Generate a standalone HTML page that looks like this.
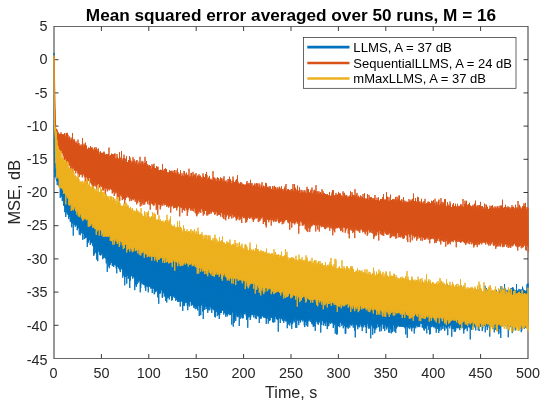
<!DOCTYPE html>
<html><head><meta charset="utf-8"><title>Mean squared error</title><style>html,body{margin:0;padding:0;background:#fff}</style></head><body>
<svg width="550" height="410" viewBox="0 0 550 410" style="display:block">
<rect width="550" height="410" fill="#fff"/>
<defs><clipPath id="c"><rect x="53.0" y="26.5" width="476.0" height="332.0"/></clipPath></defs>
<g stroke="#262626" stroke-width="0.7" fill="none">
<path d="M53.6,26.5H528.4M53.6,358.5H528.4"/>
<path d="M54.0,26.5V358.5M528.0,26.5V358.5" stroke-width="0.95"/>
<path d="M101.40,358.5v-4.5M101.40,26.5v4.5" stroke-width="0.9"/>
<path d="M148.80,358.5v-4.5M148.80,26.5v4.5" stroke-width="0.9"/>
<path d="M196.20,358.5v-4.5M196.20,26.5v4.5" stroke-width="0.9"/>
<path d="M243.60,358.5v-4.5M243.60,26.5v4.5" stroke-width="0.9"/>
<path d="M291.00,358.5v-4.5M291.00,26.5v4.5" stroke-width="0.9"/>
<path d="M338.40,358.5v-4.5M338.40,26.5v4.5" stroke-width="0.9"/>
<path d="M385.80,358.5v-4.5M385.80,26.5v4.5" stroke-width="0.9"/>
<path d="M433.20,358.5v-4.5M433.20,26.5v4.5" stroke-width="0.9"/>
<path d="M480.60,358.5v-4.5M480.60,26.5v4.5" stroke-width="0.9"/>
<path d="M54.0,59.70h4.5M528.0,59.70h-4.5" stroke-width="0.9"/>
<path d="M54.0,92.90h4.5M528.0,92.90h-4.5" stroke-width="0.9"/>
<path d="M54.0,126.10h4.5M528.0,126.10h-4.5" stroke-width="0.9"/>
<path d="M54.0,159.30h4.5M528.0,159.30h-4.5" stroke-width="0.9"/>
<path d="M54.0,192.50h4.5M528.0,192.50h-4.5" stroke-width="0.9"/>
<path d="M54.0,225.70h4.5M528.0,225.70h-4.5" stroke-width="0.9"/>
<path d="M54.0,258.90h4.5M528.0,258.90h-4.5" stroke-width="0.9"/>
<path d="M54.0,292.10h4.5M528.0,292.10h-4.5" stroke-width="0.9"/>
<path d="M54.0,325.30h4.5M528.0,325.30h-4.5" stroke-width="0.9"/>
</g>
<g clip-path="url(#c)"><path d="M55.0,153.5 56.0,168.5 57.0,167.8 58.0,162.5 59.0,158.7 60.0,162.2 61.0,165.7 62.0,169.2 63.0,172.8 64.0,176.3 65.0,179.9 66.0,183.5 67.0,185.7 68.0,187.4 69.0,189.0 70.0,190.7 71.0,192.1 72.0,193.6 73.0,194.8 74.0,195.9 75.0,197.1 76.0,198.2 77.0,199.4 78.0,200.6 79.0,201.7 80.0,202.9 81.0,204.0 82.0,205.2 83.0,206.4 84.0,207.5 85.0,208.7 86.0,209.8 87.0,211.0 88.0,212.2 89.0,213.3 90.0,214.5 91.0,215.6 92.0,216.8 93.0,218.0 94.0,219.1 95.0,220.0 96.0,221.0 97.0,222.0 98.0,222.9 99.0,223.6 100.0,224.3 101.0,225.0 102.0,225.7 103.0,226.4 104.0,227.1 105.0,227.7 106.0,228.4 107.0,229.1 108.0,229.8 109.0,230.4 110.0,231.0 111.0,231.5 112.0,232.1 113.0,232.6 114.0,233.2 115.0,233.6 116.0,234.1 117.0,234.6 118.0,235.1 119.0,235.6 120.0,236.1 121.0,236.5 122.0,237.0 123.0,237.5 124.0,237.9 125.0,238.4 126.0,238.8 127.0,239.3 128.0,239.7 129.0,240.2 130.0,240.6 131.0,241.0 132.0,241.5 133.0,241.9 134.0,242.4 135.0,242.8 136.0,243.2 137.0,243.7 138.0,244.1 139.0,244.5 140.0,244.8 141.0,245.2 142.0,245.5 143.0,245.9 144.0,246.2 145.0,246.6 146.0,246.9 147.0,247.3 148.0,247.6 149.0,248.0 150.0,248.3 151.0,248.6 152.0,248.8 153.0,249.1 154.0,249.4 155.0,249.7 156.0,250.0 157.0,250.2 158.0,250.5 159.0,250.8 160.0,251.1 161.0,251.4 162.0,251.7 163.0,252.0 164.0,252.2 165.0,252.5 166.0,252.8 167.0,253.1 168.0,253.3 169.0,253.6 170.0,253.8 171.0,254.0 172.0,254.3 173.0,254.5 174.0,254.8 175.0,255.0 176.0,255.2 177.0,255.5 178.0,255.7 179.0,255.9 180.0,256.2 181.0,256.4 182.0,256.5 183.0,256.7 184.0,256.8 185.0,256.9 186.0,257.1 187.0,257.2 188.0,257.3 189.0,257.4 190.0,257.6 191.0,257.7 192.0,257.8 193.0,258.0 194.0,258.1 195.0,258.2 196.0,258.4 197.0,259.4 198.0,260.6 199.0,261.8 200.0,263.0 201.0,263.2 202.0,263.4 203.0,263.6 204.0,263.8 205.0,264.0 206.0,264.2 207.0,264.4 208.0,264.6 209.0,264.8 210.0,265.0 211.0,265.2 212.0,265.4 213.0,265.6 214.0,265.8 215.0,266.0 216.0,266.2 217.0,266.4 218.0,266.6 219.0,266.8 220.0,267.0 221.0,267.3 222.0,267.7 223.0,268.0 224.0,268.3 225.0,268.6 226.0,269.0 227.0,269.3 228.0,269.6 229.0,270.0 230.0,270.3 231.0,270.6 232.0,270.9 233.0,271.3 234.0,271.6 235.0,271.9 236.0,272.2 237.0,272.6 238.0,272.9 239.0,273.2 240.0,273.6 241.0,273.9 242.0,274.2 243.0,274.5 244.0,274.9 245.0,275.2 246.0,275.5 247.0,275.8 248.0,276.2 249.0,276.5 250.0,276.8 251.0,277.1 252.0,277.5 253.0,277.8 254.0,278.1 255.0,278.5 256.0,278.8 257.0,279.1 258.0,279.4 259.0,279.7 260.0,280.0 261.0,280.3 262.0,280.6 263.0,280.9 264.0,281.1 265.0,281.4 266.0,281.7 267.0,282.0 268.0,282.2 269.0,282.5 270.0,282.8 271.0,283.1 272.0,283.4 273.0,283.6 274.0,283.9 275.0,284.2 276.0,284.5 277.0,284.8 278.0,285.0 279.0,285.3 280.0,285.6 281.0,285.9 282.0,286.1 283.0,286.4 284.0,286.7 285.0,287.0 286.0,287.3 287.0,287.5 288.0,287.8 289.0,288.0 290.0,288.3 291.0,288.5 292.0,288.7 293.0,288.8 294.0,289.0 295.0,289.2 296.0,289.4 297.0,289.6 298.0,289.8 299.0,290.0 300.0,290.2 301.0,290.4 302.0,290.6 303.0,290.8 304.0,291.0 305.0,291.2 306.0,291.4 307.0,291.6 308.0,291.8 309.0,292.0 310.0,292.2 311.0,292.4 312.0,292.6 313.0,292.8 314.0,293.0 315.0,293.2 316.0,293.4 317.0,293.6 318.0,293.8 319.0,293.9 320.0,294.1 321.0,294.3 322.0,294.5 323.0,294.6 324.0,294.8 325.0,294.8 326.0,294.9 327.0,294.9 328.0,295.0 329.0,295.1 330.0,295.1 331.0,295.2 332.0,295.3 333.0,295.4 334.0,295.4 335.0,295.5 336.0,295.6 337.0,295.7 338.0,295.8 339.0,295.8 340.0,295.9 341.0,296.0 342.0,296.1 343.0,296.2 344.0,296.2 345.0,296.3 346.0,296.4 347.0,296.5 348.0,296.5 349.0,296.6 350.0,296.6 351.0,296.7 352.0,296.8 353.0,296.8 354.0,296.9 355.0,296.9 356.0,297.0 357.0,297.0 358.0,297.1 359.0,297.2 360.0,297.2 361.0,297.3 362.0,297.3 363.0,297.4 364.0,297.4 365.0,297.5 366.0,297.6 367.0,297.6 368.0,297.7 369.0,297.7 370.0,297.8 371.0,297.8 372.0,297.8 373.0,297.9 374.0,297.9 375.0,297.9 376.0,298.0 377.0,298.0 378.0,298.0 379.0,298.0 380.0,298.1 381.0,298.1 382.0,298.1 383.0,298.2 384.0,298.2 385.0,298.2 386.0,298.2 387.0,298.3 388.0,298.3 389.0,298.3 390.0,298.4 391.0,298.4 392.0,298.4 393.0,298.4 394.0,298.5 395.0,298.5 396.0,298.5 397.0,298.6 398.0,298.6 399.0,298.6 400.0,298.6 401.0,298.6 402.0,298.6 403.0,298.6 404.0,298.6 405.0,298.6 406.0,298.6 407.0,298.6 408.0,298.6 409.0,298.6 410.0,298.6 411.0,298.6 412.0,298.5 413.0,298.5 414.0,298.5 415.0,298.5 416.0,298.5 417.0,298.5 418.0,298.5 419.0,298.5 420.0,298.5 421.0,298.6 422.0,298.6 423.0,298.7 424.0,298.7 425.0,298.8 426.0,298.9 427.0,298.9 428.0,299.0 429.0,299.0 430.0,299.0 431.0,299.0 432.0,299.0 433.0,299.0 434.0,299.1 435.0,299.1 436.0,299.1 437.0,299.1 438.0,299.1 439.0,299.1 440.0,299.1 441.0,294.2 442.0,294.3 443.0,294.5 444.0,294.6 445.0,294.7 446.0,294.8 447.0,294.9 448.0,295.0 449.0,295.1 450.0,295.2 451.0,295.3 452.0,295.4 453.0,295.5 454.0,295.6 455.0,295.7 456.0,295.8 457.0,295.9 458.0,296.0 459.0,296.1 460.0,296.2 461.0,296.2 462.0,296.3 463.0,296.3 464.0,296.3 465.0,296.4 466.0,296.4 467.0,296.4 468.0,296.5 469.0,296.5 470.0,296.6 471.0,296.6 472.0,296.6 473.0,296.7 474.0,296.7 475.0,296.7 476.0,296.8 477.0,296.8 478.0,296.9 479.0,296.9 480.0,296.9 481.0,297.0 482.0,297.0 483.0,297.0 484.0,297.1 485.0,297.1 486.0,297.1 487.0,297.0 488.0,296.9 489.0,296.8 490.0,296.7 491.0,296.6 492.0,296.5 493.0,296.4 494.0,296.4 495.0,296.3 496.0,296.2 497.0,296.1 498.0,296.0 499.0,295.9 500.0,295.8 501.0,295.7 502.0,295.6 503.0,295.5 504.0,295.4 505.0,295.3 506.0,295.1 507.0,295.0 508.0,294.9 509.0,294.8 510.0,294.7 511.0,294.6 512.0,294.5 513.0,294.5 514.0,294.5 515.0,294.5 516.0,294.5 517.0,294.5 518.0,294.5 519.0,294.5 520.0,294.5 521.0,294.5 522.0,294.5 523.0,294.5 524.0,294.5 525.0,294.5 526.0,294.5 527.0,294.5 528.0,294.5 528.0,320.0 527.0,320.1 526.0,320.1 525.0,320.2 524.0,320.3 523.0,320.3 522.0,320.4 521.0,320.5 520.0,320.5 519.0,320.6 518.0,320.7 517.0,320.7 516.0,320.8 515.0,320.9 514.0,320.9 513.0,321.0 512.0,321.1 511.0,321.1 510.0,321.2 509.0,321.3 508.0,321.3 507.0,321.4 506.0,321.5 505.0,321.5 504.0,321.6 503.0,321.7 502.0,321.7 501.0,321.8 500.0,321.9 499.0,321.9 498.0,321.9 497.0,321.9 496.0,321.9 495.0,321.9 494.0,322.0 493.0,322.0 492.0,322.0 491.0,322.0 490.0,322.0 489.0,322.0 488.0,322.1 487.0,322.1 486.0,322.1 485.0,322.2 484.0,322.2 483.0,322.3 482.0,322.3 481.0,322.4 480.0,322.4 479.0,322.5 478.0,322.5 477.0,322.6 476.0,322.6 475.0,322.7 474.0,322.7 473.0,322.8 472.0,322.8 471.0,322.9 470.0,323.0 469.0,323.0 468.0,323.0 467.0,323.0 466.0,323.1 465.0,323.1 464.0,323.1 463.0,323.1 462.0,323.2 461.0,323.2 460.0,323.2 459.0,323.2 458.0,323.3 457.0,323.3 456.0,323.2 455.0,323.2 454.0,323.2 453.0,323.2 452.0,323.2 451.0,323.2 450.0,323.2 449.0,323.2 448.0,323.2 447.0,323.2 446.0,323.2 445.0,323.2 444.0,323.1 443.0,323.1 442.0,323.1 441.0,323.1 440.0,323.1 439.0,323.1 438.0,323.1 437.0,323.1 436.0,323.1 435.0,323.1 434.0,323.1 433.0,323.0 432.0,323.0 431.0,323.0 430.0,323.0 429.0,323.0 428.0,323.0 427.0,322.9 426.0,322.9 425.0,322.8 424.0,322.7 423.0,322.7 422.0,322.6 421.0,322.6 420.0,322.5 419.0,322.5 418.0,322.5 417.0,322.5 416.0,322.5 415.0,322.5 414.0,322.5 413.0,322.5 412.0,322.5 411.0,322.6 410.0,322.6 409.0,322.6 408.0,322.6 407.0,322.6 406.0,322.6 405.0,322.6 404.0,322.6 403.0,322.6 402.0,322.6 401.0,322.6 400.0,322.6 399.0,322.6 398.0,322.6 397.0,322.6 396.0,322.5 395.0,322.5 394.0,322.5 393.0,322.4 392.0,322.4 391.0,322.4 390.0,322.4 389.0,322.3 388.0,322.3 387.0,322.3 386.0,322.2 385.0,322.2 384.0,322.2 383.0,322.2 382.0,322.1 381.0,322.1 380.0,322.1 379.0,322.0 378.0,322.0 377.0,322.0 376.0,322.0 375.0,321.9 374.0,321.9 373.0,321.9 372.0,321.8 371.0,321.8 370.0,321.8 369.0,321.7 368.0,321.7 367.0,321.6 366.0,321.6 365.0,321.5 364.0,321.4 363.0,321.4 362.0,321.3 361.0,321.3 360.0,321.2 359.0,321.2 358.0,321.1 357.0,321.0 356.0,321.0 355.0,320.9 354.0,320.9 353.0,320.8 352.0,320.8 351.0,320.7 350.0,320.6 349.0,320.6 348.0,320.5 347.0,320.5 346.0,320.4 345.0,320.3 344.0,320.2 343.0,320.2 342.0,320.1 341.0,320.0 340.0,319.9 339.0,319.8 338.0,319.8 337.0,319.7 336.0,319.6 335.0,319.5 334.0,319.4 333.0,319.4 332.0,319.3 331.0,319.2 330.0,319.1 329.0,319.1 328.0,319.0 327.0,318.9 326.0,318.9 325.0,318.8 324.0,318.8 323.0,318.7 322.0,318.7 321.0,318.6 320.0,318.5 319.0,318.5 318.0,318.4 317.0,318.4 316.0,318.3 315.0,318.2 314.0,318.1 313.0,318.1 312.0,318.0 311.0,317.9 310.0,317.9 309.0,317.8 308.0,317.7 307.0,317.6 306.0,317.6 305.0,317.5 304.0,317.4 303.0,317.3 302.0,317.3 301.0,317.2 300.0,317.1 299.0,317.0 298.0,317.0 297.0,316.9 296.0,316.8 295.0,316.7 294.0,316.7 293.0,316.6 292.0,316.5 291.0,316.5 290.0,316.4 289.0,316.3 288.0,316.2 287.0,316.1 286.0,316.0 285.0,315.9 284.0,315.8 283.0,315.7 282.0,315.6 281.0,315.5 280.0,315.4 279.0,315.3 278.0,315.2 277.0,315.0 276.0,314.9 275.0,314.8 274.0,314.7 273.0,314.6 272.0,314.5 271.0,314.4 270.0,314.3 269.0,314.2 268.0,314.1 267.0,314.0 266.0,313.9 265.0,313.7 264.0,313.6 263.0,313.5 262.0,313.4 261.0,313.3 260.0,313.2 259.0,313.1 258.0,313.0 257.0,312.9 256.0,312.8 255.0,312.7 254.0,312.5 253.0,312.4 252.0,312.3 251.0,312.2 250.0,312.1 249.0,311.9 248.0,311.8 247.0,311.7 246.0,311.6 245.0,311.5 244.0,311.3 243.0,311.2 242.0,311.1 241.0,311.0 240.0,310.9 239.0,310.7 238.0,310.6 237.0,310.5 236.0,310.4 235.0,310.3 234.0,310.1 233.0,310.0 232.0,309.9 231.0,309.8 230.0,309.7 229.0,309.5 228.0,309.2 227.0,309.0 226.0,308.7 225.0,308.5 224.0,308.2 223.0,308.0 222.0,307.7 221.0,307.4 220.0,307.2 219.0,306.9 218.0,306.7 217.0,306.4 216.0,306.2 215.0,305.9 214.0,305.7 213.0,305.4 212.0,305.2 211.0,304.9 210.0,304.6 209.0,304.4 208.0,304.1 207.0,303.8 206.0,303.5 205.0,303.2 204.0,302.9 203.0,302.6 202.0,302.3 201.0,301.9 200.0,301.6 199.0,301.4 198.0,301.1 197.0,300.9 196.0,300.6 195.0,300.4 194.0,300.1 193.0,299.9 192.0,299.6 191.0,299.3 190.0,299.1 189.0,298.8 188.0,298.6 187.0,298.3 186.0,298.1 185.0,297.8 184.0,297.5 183.0,297.3 182.0,297.0 181.0,296.7 180.0,296.3 179.0,295.9 178.0,295.5 177.0,295.1 176.0,294.7 175.0,294.3 174.0,293.9 173.0,293.5 172.0,293.1 171.0,292.7 170.0,292.3 169.0,291.9 168.0,291.5 167.0,291.1 166.0,290.7 165.0,290.2 164.0,289.8 163.0,289.3 162.0,288.8 161.0,288.4 160.0,287.9 159.0,287.5 158.0,287.0 157.0,286.5 156.0,286.1 155.0,285.6 154.0,285.2 153.0,284.7 152.0,284.2 151.0,283.8 150.0,283.3 149.0,282.8 148.0,282.4 147.0,281.9 146.0,281.4 145.0,280.9 144.0,280.5 143.0,280.0 142.0,279.5 141.0,279.1 140.0,278.6 139.0,278.1 138.0,277.6 137.0,277.0 136.0,276.4 135.0,275.7 134.0,275.0 133.0,274.4 132.0,273.7 131.0,273.0 130.0,272.4 129.0,271.7 128.0,271.0 127.0,270.3 126.0,269.7 125.0,269.0 124.0,268.3 123.0,267.7 122.0,266.9 121.0,266.2 120.0,265.4 119.0,264.7 118.0,263.9 117.0,263.2 116.0,262.4 115.0,261.7 114.0,260.9 113.0,260.1 112.0,259.3 111.0,258.5 110.0,257.7 109.0,256.9 108.0,256.0 107.0,255.1 106.0,254.2 105.0,253.3 104.0,252.4 103.0,251.5 102.0,250.6 101.0,249.7 100.0,248.8 99.0,247.9 98.0,246.9 97.0,246.0 96.0,245.0 95.0,244.0 94.0,243.1 93.0,242.0 92.0,240.8 91.0,239.6 90.0,238.5 89.0,237.3 88.0,236.2 87.0,235.0 86.0,233.8 85.0,232.7 84.0,231.5 83.0,230.4 82.0,229.2 81.0,228.0 80.0,226.9 79.0,225.7 78.0,224.6 77.0,223.4 76.0,222.2 75.0,221.1 74.0,219.9 73.0,218.8 72.0,217.6 71.0,216.1 70.0,214.7 69.0,213.0 68.0,211.4 67.0,209.7 66.0,207.5 65.0,203.9 64.0,200.3 63.0,196.8 62.0,193.2 61.0,189.7 60.0,186.2 59.0,182.7 58.0,179.5 57.0,176.8 56.0,174.0 55.0,156.7Z" fill="#0072BD" stroke="none"/>
<path d="M54.00,53.0L54.25,107.8 54.50,116.9 54.75,154.5 55.00,148.1 55.25,167.8 55.50,155.4 55.75,176.8 56.00,163.3 56.25,179.6 56.50,164.2 56.75,181.2 57.00,162.3 57.25,185.1 57.50,160.2 57.75,181.9 58.00,159.4 58.25,182.3 58.50,157.8 58.75,185.8 59.00,156.4 59.25,186.2 59.50,156.1 59.75,187.8 60.00,158.3 60.25,197.9 60.50,161.9 60.75,192.8 61.00,161.4 61.25,196.6 61.50,164.7 61.75,196.3 62.00,166.5 62.25,200.9 62.50,164.9 62.75,199.7 63.00,169.0 63.25,201.3 63.50,170.4 63.75,205.8 64.00,172.2 64.25,205.1 64.50,176.1 64.75,212.2 65.00,175.7 65.25,207.3 65.50,171.5 65.75,216.9 66.00,181.2 66.25,210.2 66.50,179.6 66.75,212.4 67.00,180.2 67.25,214.6 67.50,181.0 67.75,212.7 68.00,184.5 68.25,214.4 68.50,185.0 68.75,219.1 69.00,186.7 69.25,216.9 69.50,186.2 69.75,216.6 70.00,183.8 70.25,221.7 70.50,188.7 70.75,220.1 71.00,190.4 71.25,222.5 71.50,189.1 71.75,227.3 72.00,188.0 72.25,222.0 72.50,190.8 72.75,223.6 73.00,186.5 73.25,235.6 73.50,191.9 73.75,220.5 74.00,192.1 74.25,224.9 74.50,194.1 74.75,223.1 75.00,193.8 75.25,226.8 75.50,192.2 75.75,224.2 76.00,192.7 76.25,225.5 76.50,192.2 76.75,224.6 77.00,194.1 77.25,230.3 77.50,195.3 77.75,228.4 78.00,198.8 78.25,228.2 78.50,198.5 78.75,227.3 79.00,190.4 79.25,234.6 79.50,199.3 79.75,227.7 80.00,197.8 80.25,235.2 80.50,199.8 80.75,233.0 81.00,198.9 81.25,231.1 81.50,200.8 81.75,233.3 82.00,202.7 82.25,230.8 82.50,203.1 82.75,239.8 83.00,202.0 83.25,232.2 83.50,203.9 83.75,233.9 84.00,205.7 84.25,239.1 84.50,203.3 84.75,235.5 85.00,202.7 85.25,237.7 85.50,203.5 85.75,238.2 86.00,204.0 86.25,236.6 86.50,208.4 86.75,237.6 87.00,203.0 87.25,247.0 87.50,208.1 87.75,243.1 88.00,209.6 88.25,242.4 88.50,209.6 88.75,241.3 89.00,210.6 89.25,239.8 89.50,211.6 89.75,239.7 90.00,210.8 90.25,244.9 90.50,211.0 90.75,242.0 91.00,212.2 91.25,243.3 91.50,212.2 91.75,242.3 92.00,213.3 92.25,242.2 92.50,214.6 92.75,246.1 93.00,215.0 93.25,244.3 93.50,213.8 93.75,255.8 94.00,217.0 94.25,254.4 94.50,216.6 94.75,247.2 95.00,214.3 95.25,252.6 95.50,216.4 95.75,246.9 96.00,216.0 96.25,253.6 96.50,217.7 96.75,259.6 97.00,219.6 97.25,252.4 97.50,219.3 97.75,261.2 98.00,219.0 98.25,247.9 98.50,220.1 98.75,251.6 99.00,220.2 99.25,251.5 99.50,219.9 99.75,255.0 100.00,218.8 100.25,253.2 100.50,221.6 100.75,255.6 101.00,218.7 101.25,254.5 101.50,221.6 101.75,252.6 102.00,219.9 102.25,252.4 102.50,219.8 102.75,259.2 103.00,218.1 103.25,254.2 103.50,220.7 103.75,258.1 104.00,221.0 104.25,257.9 104.50,219.3 104.75,256.0 105.00,225.8 105.25,254.9 105.50,225.6 105.75,258.8 106.00,222.4 106.25,263.4 106.50,227.0 106.75,256.4 107.00,225.0 107.25,271.9 107.50,225.4 107.75,260.4 108.00,227.7 108.25,261.7 108.50,227.6 108.75,266.3 109.00,225.3 109.25,268.2 109.50,225.8 109.75,262.7 110.00,228.0 110.25,264.8 110.50,228.6 110.75,260.9 111.00,228.7 111.25,262.9 111.50,227.1 111.75,260.7 112.00,229.9 112.25,265.9 112.50,228.5 112.75,265.8 113.00,230.5 113.25,266.2 113.50,227.1 113.75,266.9 114.00,229.0 114.25,262.1 114.50,226.4 114.75,265.1 115.00,231.9 115.25,264.0 115.50,232.1 115.75,265.5 116.00,231.2 116.25,268.6 116.50,226.8 116.75,273.3 117.00,232.3 117.25,267.0 117.50,228.0 117.75,266.2 118.00,231.0 118.25,267.0 118.50,231.3 118.75,268.3 119.00,230.3 119.25,268.5 119.50,233.3 119.75,270.1 120.00,233.2 120.25,272.1 120.50,234.0 120.75,267.2 121.00,232.5 121.25,267.6 121.50,227.7 121.75,269.2 122.00,233.8 122.25,269.9 122.50,232.5 122.75,277.7 123.00,233.0 123.25,271.3 123.50,233.6 123.75,275.7 124.00,234.4 124.25,270.4 124.50,231.1 124.75,285.3 125.00,234.4 125.25,277.1 125.50,235.5 125.75,271.4 126.00,232.5 126.25,273.5 126.50,233.5 126.75,283.6 127.00,234.8 127.25,276.1 127.50,235.9 127.75,273.7 128.00,231.5 128.25,278.8 128.50,236.0 128.75,277.2 129.00,237.2 129.25,272.8 129.50,235.3 129.75,288.0 130.00,237.2 130.25,280.7 130.50,236.9 130.75,276.8 131.00,237.7 131.25,276.0 131.50,237.7 131.75,275.9 132.00,239.5 132.25,274.9 132.50,239.0 132.75,278.8 133.00,239.1 133.25,277.1 133.50,238.7 133.75,276.6 134.00,238.0 134.25,277.6 134.50,240.1 134.75,290.1 135.00,232.5 135.25,278.4 135.50,239.4 135.75,284.6 136.00,238.6 136.25,287.0 136.50,241.1 136.75,281.4 137.00,241.1 137.25,284.2 137.50,235.6 137.75,279.5 138.00,238.9 138.25,281.1 138.50,240.6 138.75,282.6 139.00,242.3 139.25,280.3 139.50,236.5 139.75,280.6 140.00,242.2 140.25,292.3 140.50,241.8 140.75,288.0 141.00,241.5 141.25,283.3 141.50,240.7 141.75,281.4 142.00,241.6 142.25,284.3 142.50,241.8 142.75,281.9 143.00,236.2 143.25,283.7 143.50,241.9 143.75,284.7 144.00,241.4 144.25,285.3 144.50,240.7 144.75,283.5 145.00,244.6 145.25,288.1 145.50,243.8 145.75,290.9 146.00,235.5 146.25,284.8 146.50,244.3 146.75,286.6 147.00,243.4 147.25,285.0 147.50,245.1 147.75,287.1 148.00,245.2 148.25,292.3 148.50,241.1 148.75,285.6 149.00,244.8 149.25,285.5 149.50,244.4 149.75,286.9 150.00,244.9 150.25,286.7 150.50,246.3 150.75,288.6 151.00,244.9 151.25,288.3 151.50,242.2 151.75,285.1 152.00,246.1 152.25,293.1 152.50,244.1 152.75,287.9 153.00,242.5 153.25,288.8 153.50,246.9 153.75,287.9 154.00,243.5 154.25,294.3 154.50,247.7 154.75,293.4 155.00,244.3 155.25,290.3 155.50,246.5 155.75,291.9 156.00,247.6 156.25,291.3 156.50,246.4 156.75,288.9 157.00,247.3 157.25,290.2 157.50,248.4 157.75,297.4 158.00,244.1 158.25,293.3 158.50,244.0 158.75,303.8 159.00,248.3 159.25,293.8 159.50,247.7 159.75,289.3 160.00,248.0 160.25,293.7 160.50,247.8 160.75,291.9 161.00,249.1 161.25,290.0 161.50,245.4 161.75,290.2 162.00,247.7 162.25,297.8 162.50,249.3 162.75,296.8 163.00,248.8 163.25,291.7 163.50,249.3 163.75,293.0 164.00,248.6 164.25,293.7 164.50,247.1 164.75,296.6 165.00,247.2 165.25,295.3 165.50,250.2 165.75,301.0 166.00,248.7 166.25,293.9 166.50,250.3 166.75,302.5 167.00,251.2 167.25,298.3 167.50,250.8 167.75,296.3 168.00,249.4 168.25,296.2 168.50,251.4 168.75,297.9 169.00,250.7 169.25,299.5 169.50,248.9 169.75,295.8 170.00,251.0 170.25,295.6 170.50,251.1 170.75,296.2 171.00,251.5 171.25,296.1 171.50,252.3 171.75,300.7 172.00,250.8 172.25,299.9 172.50,250.5 172.75,294.6 173.00,250.4 173.25,296.6 173.50,252.2 173.75,295.6 174.00,252.2 174.25,297.7 174.50,249.1 174.75,297.4 175.00,252.4 175.25,296.9 175.50,251.7 175.75,300.9 176.00,252.8 176.25,297.9 176.50,252.9 176.75,299.9 177.00,253.4 177.25,298.8 177.50,247.8 177.75,301.7 178.00,252.4 178.25,301.8 178.50,254.0 178.75,299.3 179.00,252.0 179.25,301.6 179.50,252.2 179.75,300.9 180.00,252.3 180.25,306.5 180.50,248.9 180.75,299.0 181.00,252.7 181.25,301.6 181.50,252.6 181.75,301.1 182.00,253.7 182.25,300.8 182.50,254.1 182.75,310.9 183.00,252.9 183.25,302.5 183.50,253.1 183.75,305.7 184.00,254.2 184.25,306.1 184.50,253.8 184.75,302.9 185.00,252.9 185.25,303.2 185.50,252.9 185.75,300.4 186.00,254.1 186.25,300.8 186.50,255.4 186.75,302.8 187.00,252.9 187.25,305.9 187.50,254.0 187.75,310.2 188.00,254.8 188.25,300.4 188.50,254.3 188.75,304.6 189.00,255.1 189.25,306.7 189.50,253.2 189.75,301.9 190.00,254.3 190.25,301.7 190.50,255.7 190.75,300.7 191.00,253.2 191.25,305.7 191.50,252.9 191.75,303.7 192.00,254.3 192.25,305.3 192.50,253.0 192.75,302.2 193.00,255.9 193.25,304.4 193.50,251.0 193.75,307.9 194.00,253.6 194.25,304.6 194.50,251.9 194.75,307.2 195.00,256.1 195.25,309.2 195.50,255.3 195.75,305.4 196.00,255.0 196.25,306.8 196.50,249.6 196.75,308.7 197.00,255.5 197.25,308.5 197.50,257.7 197.75,310.5 198.00,255.7 198.25,305.9 198.50,257.0 198.75,305.1 199.00,259.0 199.25,316.0 199.50,256.7 199.75,306.4 200.00,256.3 200.25,307.9 200.50,259.7 200.75,315.2 201.00,260.7 201.25,302.8 201.50,258.0 201.75,305.6 202.00,258.8 202.25,303.2 202.50,260.1 202.75,311.5 203.00,260.9 203.25,319.0 203.50,260.3 203.75,306.6 204.00,259.0 204.25,309.1 204.50,259.9 204.75,310.0 205.00,258.8 205.25,304.4 205.50,255.1 205.75,306.8 206.00,259.5 206.25,309.0 206.50,258.4 206.75,305.3 207.00,260.5 207.25,306.9 207.50,254.5 207.75,312.8 208.00,260.7 208.25,310.2 208.50,257.1 208.75,306.3 209.00,256.7 209.25,306.6 209.50,261.2 209.75,310.4 210.00,259.1 210.25,306.3 210.50,263.0 210.75,307.3 211.00,260.5 211.25,309.0 211.50,263.2 211.75,312.9 212.00,260.3 212.25,308.0 212.50,262.3 212.75,308.9 213.00,262.0 213.25,310.2 213.50,263.1 213.75,308.8 214.00,261.4 214.25,309.3 214.50,260.4 214.75,316.6 215.00,263.4 215.25,317.4 215.50,262.7 215.75,311.7 216.00,261.8 216.25,311.5 216.50,263.3 216.75,311.5 217.00,259.2 217.25,316.2 217.50,256.3 217.75,310.1 218.00,262.2 218.25,314.9 218.50,262.9 218.75,314.1 219.00,262.6 219.25,318.9 219.50,264.2 219.75,315.0 220.00,264.9 220.25,310.6 220.50,264.4 220.75,313.0 221.00,262.9 221.25,313.0 221.50,264.1 221.75,310.0 222.00,265.0 222.25,311.0 222.50,265.3 222.75,309.8 223.00,264.0 223.25,309.4 223.50,264.8 223.75,314.6 224.00,262.7 224.25,310.0 224.50,266.0 224.75,313.2 225.00,256.6 225.25,311.2 225.50,265.0 225.75,316.8 226.00,258.5 226.25,314.3 226.50,265.8 226.75,314.6 227.00,264.2 227.25,316.4 227.50,266.3 227.75,313.9 228.00,260.6 228.25,311.2 228.50,264.2 228.75,313.9 229.00,267.1 229.25,315.2 229.50,266.5 229.75,313.8 230.00,264.7 230.25,314.9 230.50,268.5 230.75,311.5 231.00,267.8 231.25,314.9 231.50,267.8 231.75,324.6 232.00,269.3 232.25,312.2 232.50,266.6 232.75,312.3 233.00,261.1 233.25,326.6 233.50,269.5 233.75,317.0 234.00,269.3 234.25,322.8 234.50,267.6 234.75,319.4 235.00,267.2 235.25,311.8 235.50,267.5 235.75,320.9 236.00,268.8 236.25,315.5 236.50,269.3 236.75,313.1 237.00,270.6 237.25,317.2 237.50,263.2 237.75,316.2 238.00,265.4 238.25,316.7 238.50,270.2 238.75,312.5 239.00,269.3 239.25,326.0 239.50,269.9 239.75,314.8 240.00,270.3 240.25,318.8 240.50,271.3 240.75,312.2 241.00,262.4 241.25,312.8 241.50,270.5 241.75,317.3 242.00,268.6 242.25,318.4 242.50,270.8 242.75,313.9 243.00,270.0 243.25,318.2 243.50,266.3 243.75,314.0 244.00,270.7 244.25,314.3 244.50,266.9 244.75,314.1 245.00,272.3 245.25,313.6 245.50,269.8 245.75,313.1 246.00,267.7 246.25,316.1 246.50,269.9 246.75,320.0 247.00,272.9 247.25,318.4 247.50,272.7 247.75,327.7 248.00,273.2 248.25,315.6 248.50,271.7 248.75,317.5 249.00,272.9 249.25,314.4 249.50,273.9 249.75,316.6 250.00,274.5 250.25,320.0 250.50,274.0 250.75,317.4 251.00,273.2 251.25,314.5 251.50,271.7 251.75,314.3 252.00,272.7 252.25,315.2 252.50,272.2 252.75,314.3 253.00,270.6 253.25,314.2 253.50,273.1 253.75,317.3 254.00,276.0 254.25,314.2 254.50,274.8 254.75,315.0 255.00,276.3 255.25,318.3 255.50,274.4 255.75,313.8 256.00,276.8 256.25,319.1 256.50,275.1 256.75,314.9 257.00,274.9 257.25,314.5 257.50,274.0 257.75,316.4 258.00,275.5 258.25,316.0 258.50,267.6 258.75,316.5 259.00,276.5 259.25,323.0 259.50,274.0 259.75,317.7 260.00,276.8 260.25,316.3 260.50,277.6 260.75,318.8 261.00,277.1 261.25,318.4 261.50,278.3 261.75,315.4 262.00,276.3 262.25,316.4 262.50,278.8 262.75,316.2 263.00,275.0 263.25,315.3 263.50,277.1 263.75,317.7 264.00,275.7 264.25,316.4 264.50,278.9 264.75,317.4 265.00,273.4 265.25,318.2 265.50,274.6 265.75,316.5 266.00,275.4 266.25,323.9 266.50,278.1 266.75,318.6 267.00,276.2 267.25,317.7 267.50,278.3 267.75,318.5 268.00,275.1 268.25,323.6 268.50,280.5 268.75,316.1 269.00,278.5 269.25,321.0 269.50,275.1 269.75,316.2 270.00,276.9 270.25,320.3 270.50,276.9 270.75,316.1 271.00,277.3 271.25,318.0 271.50,278.9 271.75,317.1 272.00,280.8 272.25,317.6 272.50,278.5 272.75,322.1 273.00,280.4 273.25,322.7 273.50,280.3 273.75,318.9 274.00,280.2 274.25,317.4 274.50,280.1 274.75,322.2 275.00,281.6 275.25,316.7 275.50,278.8 275.75,316.4 276.00,280.1 276.25,318.9 276.50,277.7 276.75,318.9 277.00,274.4 277.25,319.9 277.50,279.2 277.75,319.3 278.00,280.8 278.25,331.7 278.50,283.0 278.75,317.6 279.00,281.4 279.25,318.5 279.50,281.1 279.75,317.9 280.00,281.0 280.25,323.0 280.50,281.7 280.75,317.9 281.00,282.7 281.25,317.3 281.50,279.8 281.75,319.3 282.00,281.8 282.25,318.4 282.50,279.7 282.75,320.8 283.00,283.6 283.25,316.7 283.50,281.9 283.75,322.8 284.00,279.6 284.25,320.8 284.50,279.8 284.75,319.1 285.00,284.6 285.25,318.6 285.50,283.3 285.75,321.4 286.00,283.9 286.25,319.5 286.50,280.3 286.75,321.5 287.00,282.7 287.25,328.2 287.50,284.7 287.75,320.6 288.00,283.9 288.25,324.5 288.50,284.8 288.75,322.4 289.00,284.0 289.25,319.1 289.50,284.9 289.75,325.6 290.00,283.8 290.25,323.1 290.50,281.2 290.75,318.5 291.00,277.0 291.25,321.7 291.50,282.6 291.75,328.9 292.00,279.1 292.25,324.1 292.50,283.2 292.75,323.4 293.00,283.1 293.25,319.7 293.50,284.0 293.75,320.8 294.00,285.2 294.25,322.3 294.50,287.5 294.75,319.3 295.00,286.8 295.25,317.9 295.50,285.8 295.75,327.8 296.00,284.6 296.25,319.5 296.50,286.9 296.75,327.9 297.00,285.7 297.25,320.6 297.50,286.0 297.75,319.2 298.00,286.1 298.25,318.9 298.50,285.9 298.75,325.1 299.00,284.8 299.25,320.4 299.50,286.7 299.75,318.7 300.00,286.5 300.25,322.6 300.50,287.7 300.75,321.4 301.00,287.1 301.25,319.9 301.50,287.8 301.75,319.8 302.00,285.8 302.25,319.9 302.50,280.4 302.75,321.5 303.00,281.6 303.25,320.3 303.50,288.0 303.75,319.2 304.00,286.1 304.25,325.3 304.50,287.0 304.75,327.1 305.00,289.3 305.25,321.2 305.50,289.6 305.75,321.8 306.00,288.6 306.25,325.5 306.50,287.9 306.75,320.2 307.00,289.5 307.25,323.0 307.50,289.3 307.75,326.7 308.00,289.3 308.25,321.3 308.50,289.5 308.75,318.7 309.00,289.8 309.25,319.5 309.50,288.7 309.75,320.4 310.00,286.9 310.25,322.0 310.50,287.9 310.75,319.1 311.00,289.9 311.25,319.4 311.50,289.0 311.75,323.5 312.00,288.7 312.25,324.4 312.50,290.9 312.75,321.8 313.00,286.7 313.25,326.7 313.50,290.1 313.75,326.5 314.00,290.8 314.25,326.1 314.50,281.1 314.75,319.9 315.00,290.8 315.25,330.9 315.50,290.0 315.75,319.8 316.00,290.7 316.25,321.7 316.50,287.4 316.75,319.1 317.00,290.3 317.25,323.6 317.50,291.6 317.75,322.1 318.00,292.1 318.25,324.9 318.50,290.9 318.75,322.0 319.00,284.3 319.25,320.2 319.50,291.7 319.75,322.5 320.00,287.1 320.25,320.0 320.50,291.6 320.75,332.6 321.00,290.8 321.25,319.8 321.50,290.0 321.75,325.0 322.00,290.9 322.25,320.6 322.50,292.8 322.75,321.1 323.00,291.8 323.25,321.5 323.50,290.3 323.75,325.6 324.00,291.8 324.25,323.1 324.50,290.1 324.75,323.4 325.00,292.7 325.25,320.3 325.50,292.5 325.75,326.0 326.00,291.3 326.25,322.4 326.50,291.3 326.75,322.0 327.00,289.2 327.25,329.1 327.50,291.7 327.75,326.6 328.00,291.1 328.25,323.4 328.50,291.4 328.75,326.0 329.00,290.3 329.25,320.9 329.50,290.3 329.75,322.9 330.00,291.4 330.25,324.0 330.50,289.4 330.75,322.4 331.00,287.6 331.25,321.9 331.50,292.4 331.75,323.2 332.00,292.4 332.25,321.1 332.50,292.5 332.75,323.3 333.00,292.6 333.25,328.0 333.50,292.6 333.75,325.5 334.00,291.5 334.25,324.6 334.50,290.0 334.75,322.4 335.00,292.7 335.25,333.6 335.50,290.9 335.75,324.1 336.00,292.5 336.25,321.6 336.50,283.6 336.75,334.6 337.00,291.4 337.25,334.1 337.50,290.3 337.75,324.3 338.00,293.3 338.25,326.3 338.50,293.2 338.75,325.6 339.00,291.7 339.25,324.7 339.50,293.2 339.75,327.2 340.00,292.2 340.25,322.7 340.50,289.3 340.75,322.8 341.00,293.3 341.25,322.2 341.50,293.4 341.75,325.8 342.00,292.0 342.25,324.5 342.50,292.8 342.75,324.3 343.00,291.1 343.25,328.3 343.50,292.7 343.75,323.3 344.00,293.9 344.25,324.2 344.50,294.6 344.75,326.2 345.00,291.9 345.25,333.7 345.50,293.6 345.75,333.6 346.00,292.4 346.25,327.3 346.50,294.6 346.75,325.2 347.00,293.8 347.25,327.2 347.50,292.0 347.75,327.3 348.00,290.4 348.25,328.7 348.50,290.3 348.75,324.8 349.00,289.7 349.25,322.1 349.50,292.9 349.75,327.5 350.00,290.7 350.25,323.8 350.50,292.2 350.75,325.1 351.00,293.3 351.25,323.3 351.50,293.7 351.75,325.8 352.00,294.1 352.25,322.4 352.50,290.6 352.75,324.4 353.00,293.0 353.25,327.7 353.50,294.1 353.75,324.6 354.00,293.3 354.25,324.4 354.50,287.7 354.75,330.6 355.00,294.8 355.25,337.4 355.50,294.8 355.75,324.9 356.00,289.5 356.25,324.6 356.50,294.9 356.75,323.2 357.00,289.7 357.25,326.5 357.50,294.2 357.75,329.2 358.00,292.5 358.25,326.5 358.50,290.1 358.75,324.4 359.00,290.1 359.25,327.4 359.50,291.7 359.75,325.7 360.00,293.5 360.25,324.7 360.50,293.9 360.75,323.3 361.00,293.9 361.25,327.1 361.50,289.3 361.75,325.8 362.00,292.9 362.25,331.1 362.50,290.7 362.75,324.2 363.00,295.8 363.25,326.1 363.50,294.2 363.75,327.3 364.00,293.0 364.25,324.5 364.50,294.3 364.75,325.0 365.00,287.2 365.25,325.2 365.50,295.2 365.75,327.2 366.00,292.6 366.25,333.2 366.50,291.7 366.75,327.8 367.00,295.0 367.25,323.1 367.50,291.8 367.75,324.0 368.00,293.0 368.25,325.9 368.50,285.7 368.75,328.7 369.00,290.0 369.25,326.8 369.50,294.0 369.75,328.4 370.00,291.6 370.25,324.4 370.50,293.1 370.75,338.3 371.00,294.7 371.25,325.4 371.50,292.5 371.75,323.3 372.00,292.9 372.25,326.4 372.50,289.6 372.75,334.7 373.00,295.8 373.25,324.1 373.50,295.8 373.75,328.4 374.00,295.2 374.25,327.8 374.50,292.6 374.75,333.2 375.00,291.4 375.25,327.4 375.50,294.3 375.75,329.6 376.00,293.6 376.25,327.4 376.50,294.0 376.75,328.0 377.00,296.0 377.25,324.3 377.50,295.4 377.75,324.0 378.00,292.0 378.25,327.2 378.50,292.2 378.75,326.4 379.00,291.2 379.25,326.9 379.50,292.6 379.75,331.5 380.00,296.5 380.25,323.8 380.50,293.6 380.75,326.4 381.00,293.5 381.25,331.1 381.50,296.0 381.75,323.9 382.00,288.7 382.25,324.4 382.50,294.5 382.75,323.3 383.00,292.0 383.25,328.8 383.50,292.5 383.75,328.0 384.00,293.0 384.25,323.6 384.50,290.6 384.75,331.1 385.00,294.6 385.25,325.4 385.50,292.1 385.75,325.7 386.00,293.4 386.25,328.2 386.50,296.0 386.75,329.5 387.00,295.4 387.25,324.4 387.50,296.0 387.75,327.4 388.00,296.3 388.25,326.4 388.50,293.4 388.75,332.7 389.00,296.3 389.25,324.9 389.50,292.1 389.75,332.6 390.00,294.9 390.25,323.5 390.50,295.0 390.75,328.8 391.00,296.2 391.25,333.4 391.50,293.8 391.75,329.1 392.00,295.9 392.25,332.2 392.50,293.1 392.75,330.7 393.00,293.0 393.25,323.9 393.50,296.6 393.75,325.3 394.00,293.6 394.25,331.6 394.50,296.8 394.75,327.7 395.00,292.7 395.25,326.5 395.50,296.8 395.75,333.0 396.00,296.1 396.25,328.5 396.50,291.3 396.75,324.4 397.00,294.3 397.25,327.2 397.50,293.2 397.75,325.9 398.00,297.0 398.25,324.7 398.50,293.0 398.75,326.3 399.00,296.0 399.25,325.8 399.50,290.1 399.75,326.9 400.00,294.7 400.25,326.7 400.50,294.9 400.75,326.0 401.00,296.7 401.25,325.7 401.50,296.1 401.75,326.9 402.00,294.8 402.25,326.4 402.50,291.1 402.75,326.9 403.00,291.4 403.25,326.8 403.50,295.2 403.75,324.9 404.00,296.3 404.25,327.5 404.50,296.4 404.75,324.6 405.00,289.9 405.25,328.7 405.50,294.1 405.75,334.4 406.00,296.2 406.25,326.6 406.50,290.6 406.75,327.1 407.00,293.5 407.25,337.8 407.50,292.9 407.75,326.6 408.00,292.7 408.25,324.5 408.50,294.0 408.75,328.2 409.00,295.5 409.25,324.8 409.50,296.6 409.75,329.2 410.00,296.4 410.25,324.3 410.50,296.0 410.75,327.2 411.00,293.6 411.25,327.8 411.50,295.8 411.75,331.3 412.00,292.8 412.25,328.2 412.50,292.5 412.75,324.4 413.00,290.5 413.25,327.6 413.50,290.4 413.75,327.2 414.00,290.1 414.25,333.5 414.50,294.2 414.75,325.8 415.00,294.3 415.25,326.2 415.50,295.6 415.75,328.3 416.00,294.1 416.25,326.2 416.50,294.4 416.75,324.6 417.00,295.7 417.25,325.1 417.50,296.7 417.75,327.2 418.00,291.0 418.25,326.8 418.50,293.3 418.75,324.7 419.00,296.0 419.25,326.2 419.50,295.4 419.75,327.1 420.00,292.7 420.25,323.4 420.50,295.5 420.75,323.9 421.00,294.0 421.25,323.5 421.50,292.0 421.75,323.8 422.00,292.6 422.25,327.6 422.50,295.0 422.75,327.3 423.00,296.1 423.25,323.8 423.50,295.4 423.75,329.4 424.00,293.0 424.25,330.6 424.50,295.1 424.75,327.1 425.00,290.1 425.25,328.3 425.50,289.5 425.75,328.4 426.00,290.7 426.25,325.6 426.50,293.2 426.75,333.4 427.00,296.6 427.25,325.1 427.50,290.0 427.75,326.2 428.00,293.2 428.25,323.7 428.50,296.1 428.75,329.9 429.00,296.4 429.25,325.7 429.50,296.1 429.75,334.5 430.00,294.7 430.25,333.9 430.50,296.9 430.75,323.8 431.00,292.0 431.25,326.8 431.50,295.7 431.75,327.2 432.00,293.8 432.25,326.2 432.50,297.1 432.75,325.2 433.00,287.0 433.25,326.4 433.50,292.5 433.75,327.4 434.00,295.3 434.25,327.1 434.50,296.8 434.75,326.5 435.00,290.9 435.25,328.5 435.50,295.8 435.75,326.6 436.00,295.9 436.25,332.7 436.50,296.5 436.75,325.5 437.00,296.8 437.25,327.1 437.50,295.3 437.75,328.8 438.00,295.1 438.25,329.1 438.50,295.9 438.75,333.0 439.00,296.7 439.25,326.0 439.50,291.0 439.75,330.7 440.00,290.6 440.25,327.2 440.50,291.6 440.75,324.2 441.00,286.9 441.25,330.2 441.50,290.3 441.75,324.8 442.00,290.6 442.25,326.1 442.50,284.2 442.75,328.8 443.00,284.8 443.25,326.0 443.50,291.3 443.75,325.3 444.00,289.1 444.25,328.9 444.50,291.7 444.75,330.9 445.00,292.7 445.25,325.9 445.50,288.8 445.75,326.4 446.00,289.9 446.25,328.5 446.50,289.3 446.75,327.5 447.00,283.8 447.25,326.7 447.50,291.6 447.75,335.2 448.00,290.1 448.25,326.6 448.50,290.9 448.75,325.4 449.00,293.3 449.25,326.4 449.50,291.7 449.75,328.4 450.00,293.2 450.25,325.7 450.50,291.3 450.75,325.3 451.00,293.0 451.25,324.6 451.50,293.1 451.75,336.7 452.00,287.8 452.25,329.1 452.50,292.3 452.75,325.0 453.00,292.2 453.25,328.9 453.50,291.1 453.75,328.7 454.00,293.9 454.25,331.7 454.50,293.2 454.75,325.3 455.00,293.1 455.25,331.7 455.50,291.1 455.75,330.1 456.00,291.6 456.25,325.1 456.50,293.1 456.75,327.9 457.00,287.1 457.25,328.0 457.50,293.1 457.75,328.3 458.00,293.4 458.25,324.1 458.50,291.5 458.75,328.1 459.00,293.4 459.25,326.4 459.50,289.2 459.75,330.1 460.00,291.8 460.25,327.9 460.50,293.5 460.75,326.0 461.00,285.2 461.25,325.2 461.50,293.1 461.75,326.6 462.00,292.6 462.25,328.1 462.50,291.9 462.75,327.1 463.00,291.9 463.25,324.6 463.50,291.7 463.75,333.5 464.00,294.2 464.25,330.0 464.50,292.5 464.75,327.4 465.00,294.7 465.25,327.8 465.50,293.1 465.75,328.9 466.00,292.9 466.25,327.9 466.50,291.6 466.75,326.6 467.00,293.9 467.25,331.2 467.50,292.2 467.75,326.7 468.00,293.4 468.25,326.4 468.50,292.6 468.75,327.3 469.00,294.1 469.25,326.8 469.50,290.5 469.75,327.6 470.00,290.7 470.25,339.4 470.50,294.7 470.75,325.9 471.00,293.3 471.25,328.5 471.50,293.5 471.75,330.0 472.00,294.9 472.25,324.3 472.50,294.5 472.75,326.3 473.00,293.4 473.25,324.2 473.50,294.5 473.75,325.3 474.00,292.7 474.25,324.2 474.50,291.5 474.75,327.4 475.00,294.0 475.25,325.4 475.50,291.8 475.75,330.4 476.00,289.5 476.25,326.0 476.50,294.0 476.75,325.8 477.00,290.2 477.25,325.3 477.50,290.2 477.75,324.9 478.00,289.6 478.25,330.3 478.50,293.1 478.75,324.1 479.00,292.6 479.25,331.0 479.50,294.3 479.75,326.1 480.00,291.1 480.25,324.1 480.50,291.5 480.75,326.8 481.00,292.4 481.25,325.0 481.50,293.2 481.75,324.9 482.00,294.2 482.25,331.1 482.50,295.4 482.75,328.4 483.00,294.1 483.25,322.9 483.50,295.2 483.75,325.8 484.00,293.5 484.25,325.8 484.50,294.5 484.75,325.1 485.00,285.8 485.25,332.4 485.50,294.2 485.75,324.4 486.00,294.6 486.25,324.4 486.50,288.0 486.75,326.6 487.00,295.1 487.25,330.1 487.50,290.1 487.75,323.5 488.00,289.9 488.25,325.6 488.50,293.2 488.75,325.4 489.00,294.7 489.25,328.1 489.50,293.9 489.75,336.6 490.00,292.6 490.25,328.8 490.50,290.8 490.75,325.0 491.00,291.6 491.25,324.4 491.50,291.8 491.75,322.6 492.00,293.4 492.25,326.2 492.50,290.0 492.75,329.0 493.00,294.0 493.25,328.2 493.50,293.6 493.75,324.8 494.00,292.1 494.25,332.3 494.50,290.7 494.75,323.7 495.00,291.4 495.25,329.8 495.50,291.2 495.75,327.5 496.00,293.1 496.25,324.7 496.50,289.9 496.75,329.7 497.00,294.4 497.25,323.8 497.50,293.2 497.75,324.1 498.00,293.8 498.25,327.0 498.50,293.6 498.75,334.1 499.00,291.1 499.25,329.0 499.50,290.1 499.75,324.5 500.00,293.4 500.25,332.8 500.50,291.9 500.75,338.0 501.00,286.2 501.25,326.8 501.50,291.1 501.75,326.1 502.00,287.7 502.25,323.7 502.50,289.0 502.75,323.6 503.00,288.6 503.25,323.1 503.50,292.1 503.75,323.6 504.00,290.7 504.25,322.9 504.50,284.0 504.75,324.9 505.00,292.5 505.25,323.9 505.50,288.1 505.75,324.6 506.00,292.2 506.25,326.8 506.50,291.1 506.75,323.3 507.00,289.8 507.25,323.8 507.50,291.7 507.75,325.7 508.00,291.4 508.25,337.3 508.50,292.6 508.75,328.3 509.00,291.1 509.25,322.2 509.50,292.6 509.75,327.5 510.00,289.9 510.25,326.8 510.50,290.5 510.75,324.5 511.00,288.0 511.25,323.3 511.50,291.1 511.75,326.1 512.00,287.9 512.25,333.1 512.50,287.6 512.75,328.5 513.00,287.4 513.25,324.2 513.50,288.8 513.75,324.2 514.00,289.6 514.25,326.7 514.50,290.0 514.75,326.4 515.00,291.3 515.25,330.4 515.50,290.7 515.75,325.0 516.00,290.6 516.25,324.3 516.50,284.1 516.75,323.4 517.00,292.2 517.25,323.9 517.50,291.0 517.75,323.2 518.00,290.1 518.25,323.0 518.50,292.0 518.75,321.8 519.00,288.9 519.25,323.2 519.50,291.6 519.75,326.1 520.00,289.8 520.25,328.9 520.50,290.5 520.75,324.3 521.00,289.3 521.25,332.2 521.50,292.3 521.75,330.6 522.00,289.9 522.25,321.3 522.50,286.6 522.75,325.0 523.00,288.6 523.25,324.8 523.50,290.6 523.75,326.4 524.00,290.5 524.25,328.8 524.50,290.2 524.75,323.3 525.00,291.0 525.25,328.0 525.50,291.9 525.75,321.2 526.00,290.6 526.25,326.3 526.50,290.7 526.75,321.8 527.00,284.3 527.25,321.7 527.50,289.5 527.75,327.3 528.00,283.4 528.25,322.5" fill="none" stroke="#0072BD" stroke-width="0.95" stroke-linejoin="round"/>
<path d="M57.0,137.0 58.0,137.9 59.0,138.7 60.0,139.1 61.0,139.5 62.0,139.9 63.0,140.2 64.0,140.6 65.0,141.0 66.0,141.3 67.0,141.7 68.0,142.2 69.0,142.6 70.0,143.1 71.0,143.7 72.0,144.3 73.0,144.9 74.0,145.4 75.0,145.9 76.0,146.4 77.0,146.8 78.0,147.3 79.0,147.7 80.0,148.2 81.0,148.6 82.0,149.1 83.0,149.5 84.0,150.0 85.0,150.4 86.0,150.9 87.0,151.4 88.0,151.8 89.0,152.2 90.0,152.6 91.0,153.0 92.0,153.4 93.0,153.7 94.0,154.1 95.0,154.5 96.0,154.9 97.0,155.3 98.0,155.7 99.0,156.0 100.0,156.4 101.0,156.8 102.0,157.1 103.0,157.4 104.0,157.7 105.0,158.0 106.0,158.3 107.0,158.6 108.0,158.9 109.0,159.2 110.0,159.6 111.0,159.9 112.0,160.2 113.0,160.5 114.0,160.8 115.0,161.1 116.0,161.4 117.0,161.7 118.0,162.0 119.0,162.3 120.0,162.6 121.0,162.9 122.0,163.2 123.0,163.5 124.0,163.8 125.0,164.1 126.0,164.4 127.0,164.7 128.0,164.9 129.0,165.1 130.0,165.3 131.0,165.6 132.0,165.8 133.0,166.0 134.0,166.2 135.0,166.4 136.0,166.7 137.0,166.9 138.0,167.1 139.0,167.3 140.0,167.5 141.0,167.8 142.0,168.1 143.0,168.4 144.0,168.6 145.0,168.9 146.0,169.2 147.0,169.4 148.0,169.7 149.0,170.0 150.0,170.3 151.0,170.5 152.0,170.8 153.0,171.1 154.0,171.3 155.0,171.6 156.0,171.9 157.0,172.2 158.0,172.4 159.0,172.7 160.0,173.0 161.0,173.2 162.0,173.5 163.0,173.8 164.0,174.0 165.0,174.3 166.0,174.6 167.0,174.8 168.0,175.1 169.0,175.4 170.0,175.6 171.0,175.9 172.0,176.1 173.0,176.4 174.0,176.6 175.0,176.8 176.0,177.1 177.0,177.3 178.0,177.5 179.0,177.8 180.0,178.0 181.0,178.2 182.0,178.3 183.0,178.5 184.0,178.6 185.0,178.8 186.0,178.9 187.0,179.1 188.0,179.2 189.0,179.4 190.0,179.5 191.0,179.7 192.0,179.8 193.0,180.0 194.0,180.2 195.0,180.3 196.0,180.5 197.0,180.6 198.0,180.8 199.0,180.9 200.0,181.1 201.0,181.2 202.0,181.4 203.0,181.5 204.0,181.7 205.0,181.9 206.0,182.0 207.0,182.2 208.0,182.3 209.0,182.5 210.0,182.6 211.0,182.8 212.0,182.9 213.0,183.1 214.0,183.2 215.0,183.4 216.0,183.5 217.0,183.6 218.0,183.8 219.0,183.9 220.0,184.1 221.0,184.2 222.0,184.4 223.0,184.5 224.0,184.7 225.0,184.8 226.0,185.0 227.0,185.1 228.0,185.3 229.0,185.4 230.0,185.6 231.0,185.7 232.0,185.8 233.0,186.0 234.0,186.1 235.0,186.3 236.0,186.4 237.0,186.6 238.0,186.7 239.0,186.9 240.0,187.0 241.0,187.2 242.0,187.3 243.0,187.5 244.0,187.6 245.0,187.8 246.0,187.9 247.0,188.1 248.0,188.2 249.0,188.4 250.0,188.5 251.0,188.7 252.0,188.8 253.0,189.0 254.0,189.1 255.0,189.3 256.0,189.4 257.0,189.6 258.0,189.7 259.0,189.9 260.0,190.0 261.0,190.2 262.0,190.3 263.0,190.5 264.0,190.6 265.0,190.8 266.0,190.9 267.0,191.1 268.0,191.2 269.0,191.4 270.0,191.5 271.0,191.6 272.0,191.8 273.0,191.9 274.0,192.0 275.0,192.1 276.0,192.3 277.0,192.4 278.0,192.5 279.0,192.7 280.0,192.8 281.0,192.9 282.0,193.1 283.0,193.2 284.0,193.3 285.0,193.4 286.0,193.6 287.0,193.7 288.0,193.8 289.0,194.0 290.0,194.1 291.0,194.2 292.0,194.4 293.0,194.5 294.0,194.6 295.0,194.7 296.0,194.9 297.0,195.0 298.0,195.1 299.0,195.3 300.0,195.4 301.0,195.5 302.0,195.6 303.0,195.7 304.0,195.8 305.0,195.9 306.0,196.0 307.0,196.1 308.0,196.2 309.0,196.3 310.0,196.5 311.0,196.6 312.0,196.7 313.0,196.8 314.0,196.9 315.0,197.0 316.0,197.1 317.0,197.2 318.0,197.3 319.0,197.4 320.0,197.5 321.0,197.6 322.0,197.7 323.0,197.8 324.0,197.9 325.0,198.0 326.0,198.2 327.0,198.2 328.0,198.3 329.0,198.4 330.0,198.5 331.0,198.5 332.0,198.6 333.0,198.7 334.0,198.8 335.0,198.8 336.0,198.9 337.0,199.0 338.0,199.1 339.0,199.2 340.0,199.2 341.0,199.3 342.0,199.4 343.0,199.5 344.0,199.7 345.0,199.8 346.0,199.9 347.0,200.0 348.0,200.1 349.0,200.2 350.0,200.3 351.0,200.4 352.0,200.5 353.0,200.6 354.0,200.7 355.0,200.8 356.0,200.9 357.0,201.0 358.0,201.1 359.0,201.2 360.0,201.4 361.0,201.5 362.0,201.6 363.0,201.7 364.0,201.8 365.0,201.9 366.0,202.0 367.0,202.1 368.0,202.2 369.0,202.3 370.0,202.4 371.0,202.5 372.0,202.6 373.0,202.6 374.0,202.7 375.0,202.8 376.0,202.8 377.0,202.9 378.0,203.0 379.0,203.1 380.0,203.1 381.0,203.2 382.0,203.3 383.0,203.4 384.0,203.4 385.0,203.5 386.0,203.6 387.0,203.6 388.0,203.7 389.0,203.8 390.0,203.9 391.0,203.9 392.0,204.0 393.0,204.1 394.0,204.2 395.0,204.2 396.0,204.3 397.0,204.4 398.0,204.4 399.0,204.5 400.0,204.6 401.0,204.7 402.0,204.7 403.0,204.8 404.0,204.8 405.0,204.9 406.0,205.0 407.0,205.0 408.0,205.1 409.0,205.2 410.0,205.2 411.0,205.3 412.0,205.4 413.0,205.4 414.0,205.5 415.0,205.6 416.0,205.6 417.0,205.7 418.0,205.8 419.0,205.8 420.0,205.9 421.0,206.0 422.0,206.1 423.0,206.2 424.0,206.3 425.0,206.4 426.0,206.5 427.0,206.6 428.0,206.7 429.0,206.8 430.0,206.9 431.0,207.0 432.0,207.1 433.0,207.2 434.0,207.3 435.0,207.4 436.0,207.6 437.0,207.7 438.0,207.8 439.0,207.9 440.0,208.0 441.0,208.1 442.0,208.2 443.0,208.3 444.0,208.4 445.0,208.5 446.0,208.6 447.0,208.7 448.0,208.9 449.0,209.0 450.0,209.1 451.0,209.1 452.0,209.2 453.0,209.3 454.0,209.3 455.0,209.4 456.0,209.5 457.0,209.5 458.0,209.6 459.0,209.6 460.0,209.7 461.0,209.8 462.0,209.8 463.0,209.9 464.0,210.0 465.0,210.0 466.0,210.1 467.0,210.2 468.0,210.2 469.0,210.3 470.0,210.4 471.0,210.4 472.0,210.5 473.0,210.6 474.0,210.6 475.0,210.7 476.0,210.8 477.0,210.8 478.0,210.9 479.0,211.0 480.0,211.0 481.0,211.1 482.0,211.2 483.0,211.2 484.0,211.3 485.0,211.4 486.0,211.4 487.0,211.5 488.0,211.5 489.0,211.5 490.0,211.5 491.0,211.5 492.0,211.6 493.0,211.6 494.0,211.6 495.0,211.6 496.0,211.6 497.0,211.6 498.0,211.6 499.0,211.6 500.0,211.7 501.0,211.7 502.0,211.7 503.0,211.7 504.0,211.7 505.0,211.7 506.0,211.7 507.0,211.7 508.0,211.8 509.0,211.8 510.0,211.8 511.0,211.8 512.0,211.8 513.0,211.8 514.0,211.8 515.0,211.8 516.0,211.9 517.0,211.9 518.0,211.9 519.0,211.9 520.0,211.9 521.0,211.9 522.0,211.9 523.0,211.9 524.0,212.0 525.0,212.0 526.0,212.0 527.0,212.0 528.0,212.0 528.0,242.0 527.0,241.9 526.0,241.9 525.0,241.8 524.0,241.8 523.0,241.7 522.0,241.7 521.0,241.6 520.0,241.6 519.0,241.5 518.0,241.5 517.0,241.4 516.0,241.4 515.0,241.3 514.0,241.3 513.0,241.2 512.0,241.2 511.0,241.1 510.0,241.1 509.0,241.0 508.0,241.0 507.0,240.9 506.0,240.9 505.0,240.8 504.0,240.7 503.0,240.7 502.0,240.6 501.0,240.6 500.0,240.5 499.0,240.5 498.0,240.4 497.0,240.4 496.0,240.3 495.0,240.3 494.0,240.2 493.0,240.2 492.0,240.1 491.0,240.1 490.0,240.0 489.0,240.0 488.0,239.9 487.0,239.9 486.0,239.8 485.0,239.7 484.0,239.7 483.0,239.6 482.0,239.6 481.0,239.5 480.0,239.4 479.0,239.4 478.0,239.3 477.0,239.2 476.0,239.2 475.0,239.1 474.0,239.1 473.0,239.0 472.0,238.9 471.0,238.9 470.0,238.8 469.0,238.7 468.0,238.7 467.0,238.6 466.0,238.6 465.0,238.5 464.0,238.4 463.0,238.4 462.0,238.3 461.0,238.3 460.0,238.2 459.0,238.1 458.0,238.1 457.0,238.0 456.0,237.9 455.0,237.8 454.0,237.7 453.0,237.6 452.0,237.5 451.0,237.4 450.0,237.3 449.0,237.2 448.0,237.1 447.0,236.9 446.0,236.8 445.0,236.7 444.0,236.6 443.0,236.4 442.0,236.3 441.0,236.2 440.0,236.1 439.0,235.9 438.0,235.8 437.0,235.7 436.0,235.6 435.0,235.4 434.0,235.3 433.0,235.2 432.0,235.1 431.0,234.9 430.0,234.8 429.0,234.7 428.0,234.6 427.0,234.5 426.0,234.3 425.0,234.2 424.0,234.1 423.0,234.0 422.0,233.9 421.0,233.7 420.0,233.6 419.0,233.5 418.0,233.4 417.0,233.3 416.0,233.1 415.0,233.0 414.0,232.9 413.0,232.8 412.0,232.7 411.0,232.5 410.0,232.4 409.0,232.3 408.0,232.2 407.0,232.1 406.0,231.9 405.0,231.8 404.0,231.7 403.0,231.6 402.0,231.5 401.0,231.3 400.0,231.2 399.0,231.1 398.0,231.0 397.0,230.9 396.0,230.7 395.0,230.6 394.0,230.5 393.0,230.4 392.0,230.3 391.0,230.1 390.0,230.0 389.0,229.9 388.0,229.8 387.0,229.7 386.0,229.5 385.0,229.4 384.0,229.3 383.0,229.2 382.0,229.0 381.0,228.9 380.0,228.8 379.0,228.7 378.0,228.6 377.0,228.5 376.0,228.4 375.0,228.3 374.0,228.2 373.0,228.1 372.0,228.0 371.0,227.9 370.0,227.8 369.0,227.7 368.0,227.6 367.0,227.4 366.0,227.3 365.0,227.2 364.0,227.1 363.0,226.9 362.0,226.8 361.0,226.7 360.0,226.6 359.0,226.5 358.0,226.3 357.0,226.2 356.0,226.1 355.0,226.0 354.0,225.8 353.0,225.7 352.0,225.6 351.0,225.5 350.0,225.3 349.0,225.2 348.0,225.1 347.0,225.0 346.0,224.9 345.0,224.7 344.0,224.6 343.0,224.5 342.0,224.4 341.0,224.2 340.0,224.1 339.0,224.0 338.0,223.9 337.0,223.8 336.0,223.7 335.0,223.6 334.0,223.4 333.0,223.3 332.0,223.2 331.0,223.1 330.0,223.0 329.0,222.9 328.0,222.8 327.0,222.7 326.0,222.6 325.0,222.4 324.0,222.3 323.0,222.2 322.0,222.1 321.0,222.0 320.0,221.8 319.0,221.7 318.0,221.6 317.0,221.5 316.0,221.4 315.0,221.2 314.0,221.1 313.0,221.0 312.0,220.9 311.0,220.8 310.0,220.6 309.0,220.5 308.0,220.4 307.0,220.3 306.0,220.2 305.0,220.0 304.0,219.9 303.0,219.8 302.0,219.7 301.0,219.6 300.0,219.4 299.0,219.3 298.0,219.2 297.0,219.1 296.0,219.0 295.0,218.9 294.0,218.7 293.0,218.6 292.0,218.5 291.0,218.4 290.0,218.3 289.0,218.2 288.0,218.1 287.0,218.0 286.0,217.8 285.0,217.7 284.0,217.6 283.0,217.5 282.0,217.4 281.0,217.3 280.0,217.2 279.0,217.1 278.0,217.0 277.0,216.8 276.0,216.7 275.0,216.6 274.0,216.5 273.0,216.4 272.0,216.3 271.0,216.2 270.0,216.1 269.0,215.9 268.0,215.8 267.0,215.7 266.0,215.7 265.0,215.6 264.0,215.5 263.0,215.4 262.0,215.3 261.0,215.2 260.0,215.2 259.0,215.1 258.0,215.0 257.0,214.9 256.0,214.8 255.0,214.7 254.0,214.6 253.0,214.6 252.0,214.5 251.0,214.4 250.0,214.3 249.0,214.2 248.0,214.1 247.0,214.0 246.0,213.9 245.0,213.8 244.0,213.7 243.0,213.6 242.0,213.5 241.0,213.3 240.0,213.2 239.0,213.1 238.0,213.0 237.0,212.8 236.0,212.7 235.0,212.5 234.0,212.4 233.0,212.2 232.0,212.0 231.0,211.9 230.0,211.7 229.0,211.6 228.0,211.4 227.0,211.2 226.0,211.1 225.0,210.9 224.0,210.8 223.0,210.6 222.0,210.4 221.0,210.3 220.0,210.1 219.0,210.0 218.0,209.8 217.0,209.6 216.0,209.5 215.0,209.3 214.0,209.2 213.0,209.0 212.0,208.8 211.0,208.7 210.0,208.5 209.0,208.4 208.0,208.2 207.0,208.0 206.0,207.9 205.0,207.7 204.0,207.6 203.0,207.4 202.0,207.2 201.0,207.1 200.0,206.9 199.0,206.8 198.0,206.6 197.0,206.5 196.0,206.4 195.0,206.2 194.0,206.1 193.0,206.0 192.0,205.8 191.0,205.7 190.0,205.6 189.0,205.4 188.0,205.3 187.0,205.2 186.0,205.0 185.0,204.9 184.0,204.8 183.0,204.6 182.0,204.5 181.0,204.4 180.0,204.2 179.0,204.0 178.0,203.7 177.0,203.5 176.0,203.3 175.0,203.0 174.0,202.8 173.0,202.5 172.0,202.3 171.0,202.0 170.0,201.8 169.0,201.6 168.0,201.4 167.0,201.2 166.0,201.0 165.0,200.9 164.0,200.8 163.0,200.7 162.0,200.6 161.0,200.5 160.0,200.4 159.0,200.3 158.0,200.2 157.0,200.1 156.0,200.0 155.0,199.9 154.0,199.8 153.0,199.6 152.0,199.5 151.0,199.2 150.0,198.9 149.0,198.7 148.0,198.4 147.0,198.1 146.0,197.9 145.0,197.6 144.0,197.3 143.0,197.0 142.0,196.8 141.0,196.5 140.0,196.2 139.0,196.0 138.0,195.7 137.0,195.5 136.0,195.2 135.0,195.0 134.0,194.8 133.0,194.6 132.0,194.3 131.0,194.1 130.0,193.9 129.0,193.6 128.0,193.3 127.0,193.1 126.0,192.7 125.0,192.2 124.0,191.8 123.0,191.3 122.0,190.9 121.0,190.5 120.0,190.0 119.0,189.6 118.0,189.2 117.0,188.7 116.0,188.3 115.0,187.8 114.0,187.4 113.0,187.0 112.0,186.5 111.0,186.1 110.0,185.7 109.0,185.2 108.0,184.8 107.0,184.5 106.0,184.2 105.0,183.9 104.0,183.6 103.0,183.3 102.0,183.0 101.0,182.7 100.0,182.2 99.0,181.6 98.0,181.1 97.0,180.5 96.0,180.0 95.0,179.5 94.0,178.9 93.0,178.4 92.0,177.9 91.0,177.3 90.0,176.8 89.0,176.1 88.0,175.4 87.0,174.7 86.0,174.0 85.0,173.4 84.0,172.7 83.0,172.0 82.0,171.3 81.0,170.6 80.0,169.9 79.0,169.3 78.0,168.5 77.0,167.8 76.0,167.1 75.0,166.0 74.0,164.8 73.0,163.6 72.0,162.4 71.0,161.2 70.0,160.0 69.0,158.8 68.0,157.7 67.0,156.6 66.0,155.5 65.0,153.9 64.0,152.4 63.0,150.8 62.0,149.1 61.0,147.4 60.0,145.7 59.0,143.6 58.0,140.5 57.0,137.4Z" fill="#D95319" stroke="none"/>
<path d="M54.00,55.4L54.25,78.5 54.50,86.5 54.75,109.2 55.00,109.9 55.25,128.6 55.50,125.8 55.75,135.4 56.00,129.4 56.25,140.5 56.50,128.8 56.75,145.2 57.00,129.7 57.25,145.3 57.50,131.4 57.75,147.4 58.00,132.2 58.25,147.9 58.50,133.1 58.75,148.3 59.00,133.8 59.25,149.4 59.50,134.2 59.75,149.6 60.00,134.7 60.25,151.5 60.50,134.1 60.75,152.8 61.00,132.3 61.25,152.4 61.50,134.9 61.75,152.4 62.00,134.1 62.25,152.9 62.50,134.2 62.75,153.7 63.00,135.9 63.25,159.3 63.50,134.4 63.75,160.6 64.00,135.7 64.25,159.6 64.50,133.0 64.75,159.6 65.00,133.6 65.25,160.1 65.50,136.7 65.75,158.2 66.00,136.9 66.25,167.0 66.50,133.1 66.75,161.0 67.00,138.1 67.25,161.8 67.50,132.9 67.75,161.4 68.00,134.9 68.25,160.8 68.50,138.4 68.75,163.7 69.00,138.2 69.25,166.1 69.50,136.6 69.75,165.2 70.00,139.9 70.25,162.9 70.50,140.1 70.75,169.8 71.00,137.5 71.25,168.7 71.50,139.0 71.75,164.5 72.00,139.2 72.25,166.4 72.50,133.1 72.75,173.6 73.00,140.1 73.25,167.6 73.50,141.5 73.75,168.2 74.00,138.9 74.25,169.6 74.50,140.2 74.75,170.8 75.00,142.4 75.25,170.3 75.50,143.3 75.75,173.4 76.00,141.3 76.25,170.9 76.50,143.1 76.75,170.7 77.00,143.8 77.25,169.6 77.50,143.9 77.75,173.1 78.00,139.7 78.25,179.9 78.50,143.7 78.75,174.6 79.00,143.2 79.25,176.9 79.50,145.6 79.75,174.6 80.00,145.8 80.25,174.8 80.50,146.3 80.75,171.7 81.00,144.4 81.25,173.8 81.50,145.8 81.75,174.6 82.00,147.2 82.25,177.4 82.50,138.2 82.75,175.4 83.00,145.5 83.25,173.6 83.50,147.0 83.75,173.8 84.00,143.6 84.25,176.2 84.50,145.4 84.75,177.3 85.00,145.8 85.25,185.1 85.50,142.7 85.75,175.7 86.00,147.3 86.25,176.9 86.50,145.5 86.75,177.3 87.00,148.7 87.25,184.2 87.50,149.2 87.75,178.5 88.00,149.4 88.25,179.1 88.50,147.6 88.75,181.1 89.00,148.3 89.25,176.9 89.50,149.3 89.75,183.6 90.00,147.8 90.25,181.0 90.50,146.1 90.75,182.7 91.00,150.8 91.25,178.7 91.50,147.9 91.75,184.7 92.00,147.2 92.25,183.9 92.50,148.9 92.75,191.8 93.00,148.6 93.25,182.3 93.50,150.5 93.75,186.8 94.00,151.8 94.25,185.5 94.50,147.6 94.75,183.2 95.00,151.8 95.25,180.8 95.50,149.5 95.75,186.4 96.00,147.1 96.25,184.1 96.50,148.5 96.75,189.4 97.00,150.9 97.25,184.8 97.50,151.1 97.75,182.5 98.00,149.0 98.25,185.4 98.50,148.5 98.75,185.7 99.00,153.6 99.25,186.9 99.50,154.1 99.75,187.8 100.00,151.8 100.25,186.2 100.50,151.4 100.75,183.9 101.00,152.8 101.25,184.6 101.50,152.9 101.75,187.0 102.00,153.9 102.25,187.2 102.50,152.9 102.75,190.4 103.00,155.4 103.25,187.7 103.50,152.5 103.75,190.4 104.00,151.6 104.25,188.3 104.50,152.8 104.75,187.0 105.00,155.6 105.25,194.0 105.50,155.0 105.75,188.0 106.00,153.9 106.25,188.1 106.50,154.8 106.75,188.9 107.00,154.2 107.25,191.4 107.50,154.1 107.75,188.2 108.00,156.5 108.25,189.5 108.50,154.2 108.75,187.8 109.00,147.6 109.25,190.4 109.50,156.1 109.75,186.5 110.00,156.8 110.25,188.4 110.50,155.2 110.75,188.9 111.00,155.6 111.25,189.7 111.50,153.7 111.75,189.5 112.00,154.8 112.25,193.4 112.50,154.0 112.75,192.8 113.00,157.2 113.25,189.3 113.50,154.4 113.75,191.8 114.00,155.2 114.25,196.0 114.50,153.8 114.75,190.5 115.00,153.5 115.25,191.2 115.50,158.5 115.75,193.5 116.00,158.8 116.25,190.1 116.50,158.4 116.75,192.4 117.00,154.0 117.25,196.7 117.50,157.2 117.75,198.9 118.00,159.8 118.25,191.5 118.50,158.5 118.75,197.0 119.00,160.2 119.25,191.6 119.50,152.1 119.75,200.9 120.00,157.4 120.25,195.6 120.50,160.4 120.75,194.1 121.00,158.1 121.25,193.9 121.50,151.0 121.75,196.4 122.00,158.3 122.25,200.1 122.50,161.1 122.75,197.1 123.00,160.1 123.25,199.1 123.50,158.0 123.75,198.8 124.00,154.7 124.25,198.7 124.50,158.1 124.75,203.9 125.00,158.7 125.25,200.0 125.50,161.8 125.75,197.0 126.00,158.8 126.25,198.0 126.50,156.1 126.75,194.7 127.00,162.0 127.25,194.7 127.50,162.1 127.75,196.7 128.00,162.2 128.25,197.6 128.50,160.2 128.75,197.0 129.00,161.4 129.25,197.5 129.50,156.0 129.75,201.2 130.00,157.6 130.25,198.9 130.50,159.9 130.75,195.5 131.00,160.8 131.25,200.6 131.50,163.6 131.75,200.6 132.00,162.2 132.25,198.7 132.50,161.9 132.75,199.3 133.00,157.2 133.25,197.7 133.50,162.0 133.75,200.2 134.00,159.2 134.25,198.0 134.50,161.3 134.75,198.9 135.00,160.9 135.25,201.9 135.50,163.2 135.75,199.7 136.00,164.5 136.25,199.6 136.50,160.7 136.75,204.4 137.00,160.0 137.25,199.2 137.50,165.1 137.75,203.0 138.00,163.9 138.25,200.7 138.50,163.4 138.75,199.0 139.00,161.6 139.25,199.3 139.50,165.2 139.75,202.0 140.00,156.8 140.25,206.4 140.50,164.0 140.75,198.9 141.00,162.8 141.25,198.7 141.50,164.0 141.75,205.5 142.00,160.9 142.25,203.5 142.50,162.4 142.75,201.8 143.00,161.6 143.25,198.8 143.50,165.1 143.75,204.8 144.00,163.8 144.25,199.0 144.50,163.2 144.75,204.4 145.00,156.9 145.25,201.4 145.50,162.9 145.75,202.1 146.00,165.1 146.25,201.3 146.50,161.1 146.75,200.6 147.00,166.3 147.25,201.5 147.50,164.5 147.75,204.1 148.00,164.8 148.25,199.6 148.50,166.5 148.75,200.4 149.00,166.3 149.25,205.0 149.50,165.0 149.75,203.8 150.00,168.2 150.25,209.7 150.50,166.1 150.75,201.1 151.00,168.8 151.25,201.6 151.50,168.9 151.75,203.5 152.00,164.2 152.25,204.0 152.50,167.0 152.75,204.5 153.00,165.3 153.25,204.5 153.50,166.4 153.75,205.9 154.00,163.7 154.25,201.1 154.50,167.7 154.75,204.6 155.00,168.4 155.25,202.9 155.50,168.2 155.75,202.8 156.00,170.1 156.25,209.9 156.50,166.1 156.75,203.5 157.00,170.3 157.25,208.1 157.50,167.3 157.75,214.7 158.00,166.7 158.25,203.7 158.50,170.2 158.75,204.5 159.00,170.3 159.25,204.3 159.50,170.6 159.75,204.9 160.00,170.4 160.25,209.4 160.50,169.7 160.75,207.2 161.00,170.4 161.25,205.1 161.50,170.2 161.75,204.9 162.00,170.9 162.25,203.1 162.50,164.2 162.75,205.8 163.00,169.7 163.25,202.7 163.50,171.0 163.75,203.4 164.00,171.6 164.25,205.3 164.50,169.1 164.75,203.6 165.00,170.2 165.25,202.7 165.50,168.4 165.75,204.9 166.00,170.6 166.25,203.3 166.50,169.1 166.75,206.8 167.00,171.9 167.25,205.9 167.50,173.1 167.75,203.2 168.00,172.1 168.25,206.6 168.50,172.8 168.75,207.6 169.00,172.9 169.25,206.2 169.50,170.0 169.75,205.4 170.00,170.8 170.25,205.1 170.50,171.6 170.75,212.7 171.00,172.8 171.25,206.6 171.50,170.8 171.75,206.5 172.00,172.5 172.25,205.9 172.50,171.9 172.75,204.5 173.00,170.7 173.25,205.7 173.50,173.1 173.75,208.4 174.00,173.4 174.25,207.8 174.50,170.0 174.75,207.9 175.00,173.6 175.25,207.5 175.50,173.1 175.75,205.6 176.00,170.4 176.25,207.6 176.50,173.6 176.75,210.4 177.00,174.2 177.25,207.6 177.50,168.6 177.75,204.6 178.00,172.2 178.25,206.4 178.50,175.1 178.75,205.2 179.00,173.7 179.25,206.4 179.50,174.8 179.75,216.4 180.00,174.4 180.25,207.5 180.50,170.3 180.75,206.8 181.00,176.2 181.25,205.9 181.50,176.2 181.75,208.0 182.00,173.2 182.25,212.6 182.50,175.4 182.75,207.1 183.00,175.7 183.25,209.9 183.50,176.4 183.75,209.4 184.00,170.9 184.25,207.7 184.50,171.6 184.75,211.0 185.00,175.2 185.25,208.2 185.50,175.9 185.75,207.6 186.00,173.6 186.25,207.8 186.50,172.7 186.75,209.9 187.00,174.5 187.25,216.0 187.50,175.4 187.75,212.2 188.00,176.9 188.25,208.0 188.50,175.0 188.75,209.6 189.00,168.7 189.25,207.9 189.50,176.9 189.75,207.9 190.00,177.5 190.25,206.9 190.50,176.0 190.75,210.7 191.00,173.1 191.25,208.6 191.50,172.9 191.75,209.4 192.00,176.7 192.25,210.9 192.50,176.8 192.75,207.6 193.00,171.9 193.25,208.0 193.50,175.7 193.75,211.4 194.00,174.2 194.25,208.3 194.50,176.5 194.75,208.4 195.00,174.7 195.25,213.1 195.50,176.3 195.75,210.3 196.00,173.0 196.25,214.3 196.50,177.9 196.75,216.3 197.00,178.4 197.25,215.1 197.50,175.6 197.75,208.3 198.00,179.0 198.25,211.2 198.50,175.9 198.75,213.5 199.00,174.1 199.25,211.8 199.50,176.0 199.75,210.1 200.00,176.8 200.25,209.0 200.50,175.7 200.75,212.9 201.00,177.0 201.25,208.7 201.50,179.2 201.75,208.6 202.00,177.6 202.25,209.6 202.50,178.8 202.75,211.4 203.00,173.4 203.25,215.5 203.50,175.9 203.75,210.9 204.00,178.0 204.25,214.2 204.50,177.1 204.75,209.9 205.00,178.4 205.25,210.8 205.50,174.1 205.75,211.0 206.00,179.3 206.25,210.5 206.50,171.9 206.75,215.4 207.00,175.2 207.25,209.7 207.50,179.7 207.75,215.4 208.00,179.0 208.25,212.9 208.50,177.9 208.75,214.1 209.00,177.3 209.25,210.9 209.50,175.9 209.75,214.2 210.00,179.4 210.25,209.9 210.50,180.0 210.75,212.3 211.00,178.8 211.25,213.5 211.50,180.1 211.75,211.4 212.00,179.7 212.25,210.5 212.50,180.6 212.75,211.3 213.00,171.2 213.25,212.3 213.50,177.5 213.75,212.1 214.00,179.4 214.25,210.3 214.50,177.6 214.75,214.9 215.00,179.4 215.25,211.1 215.50,180.5 215.75,214.0 216.00,178.3 216.25,212.0 216.50,181.3 216.75,211.0 217.00,180.9 217.25,215.9 217.50,177.4 217.75,213.2 218.00,179.5 218.25,214.7 218.50,178.0 218.75,214.9 219.00,179.3 219.25,214.6 219.50,181.8 219.75,212.5 220.00,180.9 220.25,215.2 220.50,177.5 220.75,216.6 221.00,180.5 221.25,212.9 221.50,178.4 221.75,212.4 222.00,180.3 222.25,213.2 222.50,182.1 222.75,217.4 223.00,178.3 223.25,214.3 223.50,181.2 223.75,219.0 224.00,176.3 224.25,213.8 224.50,181.1 224.75,214.8 225.00,181.8 225.25,219.4 225.50,181.6 225.75,220.3 226.00,180.4 226.25,216.9 226.50,183.2 226.75,213.1 227.00,181.8 227.25,215.2 227.50,183.5 227.75,215.1 228.00,179.0 228.25,213.5 228.50,181.3 228.75,219.1 229.00,179.2 229.25,216.5 229.50,176.7 229.75,214.0 230.00,182.6 230.25,213.7 230.50,179.3 230.75,216.3 231.00,183.0 231.25,213.3 231.50,184.0 231.75,218.5 232.00,180.8 232.25,215.0 232.50,183.2 232.75,213.9 233.00,176.6 233.25,217.6 233.50,180.5 233.75,214.6 234.00,184.4 234.25,216.0 234.50,182.2 234.75,216.8 235.00,183.3 235.25,214.7 235.50,180.6 235.75,217.6 236.00,182.9 236.25,220.5 236.50,179.3 236.75,219.7 237.00,181.2 237.25,216.6 237.50,175.2 237.75,219.0 238.00,181.7 238.25,215.0 238.50,183.8 238.75,216.6 239.00,183.0 239.25,220.2 239.50,184.2 239.75,215.3 240.00,184.6 240.25,217.6 240.50,182.7 240.75,219.4 241.00,182.0 241.25,217.6 241.50,183.9 241.75,223.0 242.00,183.3 242.25,216.6 242.50,184.9 242.75,216.4 243.00,184.6 243.25,215.2 243.50,184.4 243.75,218.1 244.00,185.8 244.25,217.9 244.50,184.7 244.75,216.1 245.00,185.4 245.25,218.7 245.50,184.6 245.75,222.7 246.00,186.2 246.25,216.8 246.50,183.3 246.75,221.9 247.00,181.0 247.25,219.9 247.50,184.6 247.75,217.6 248.00,183.4 248.25,215.1 248.50,184.3 248.75,217.8 249.00,182.9 249.25,216.6 249.50,184.5 249.75,219.0 250.00,186.5 250.25,217.2 250.50,179.8 250.75,217.8 251.00,186.7 251.25,216.9 251.50,183.7 251.75,217.2 252.00,183.1 252.25,219.4 252.50,186.8 252.75,215.8 253.00,185.9 253.25,221.8 253.50,185.8 253.75,220.1 254.00,185.1 254.25,215.8 254.50,183.6 254.75,219.3 255.00,187.1 255.25,217.8 255.50,185.9 255.75,217.5 256.00,183.5 256.25,218.2 256.50,183.3 256.75,218.4 257.00,183.2 257.25,217.2 257.50,184.0 257.75,217.8 258.00,186.3 258.25,221.9 258.50,187.4 258.75,216.5 259.00,183.3 259.25,221.4 259.50,186.4 259.75,217.5 260.00,184.5 260.25,220.3 260.50,187.7 260.75,216.9 261.00,188.3 261.25,217.6 261.50,185.6 261.75,218.6 262.00,182.2 262.25,216.4 262.50,187.4 262.75,217.1 263.00,188.3 263.25,224.0 263.50,185.7 263.75,221.5 264.00,186.0 264.25,222.0 264.50,187.7 264.75,221.0 265.00,188.7 265.25,218.3 265.50,182.9 265.75,225.1 266.00,187.8 266.25,227.4 266.50,183.4 266.75,217.6 267.00,189.1 267.25,219.6 267.50,186.8 267.75,219.4 268.00,188.6 268.25,219.6 268.50,187.9 268.75,222.3 269.00,186.5 269.25,219.8 269.50,188.1 269.75,220.2 270.00,186.1 270.25,220.0 270.50,187.2 270.75,217.9 271.00,188.9 271.25,225.6 271.50,189.5 271.75,217.9 272.00,189.3 272.25,219.5 272.50,186.1 272.75,219.8 273.00,189.5 273.25,221.2 273.50,190.2 273.75,221.9 274.00,186.4 274.25,217.6 274.50,185.8 274.75,220.9 275.00,189.9 275.25,218.7 275.50,187.1 275.75,221.7 276.00,189.5 276.25,217.9 276.50,190.0 276.75,221.3 277.00,187.5 277.25,217.8 277.50,190.1 277.75,218.6 278.00,187.4 278.25,220.6 278.50,189.0 278.75,222.5 279.00,190.4 279.25,223.2 279.50,186.7 279.75,222.0 280.00,190.1 280.25,219.9 280.50,189.6 280.75,221.8 281.00,187.9 281.25,221.0 281.50,186.3 281.75,220.2 282.00,190.1 282.25,224.3 282.50,189.3 282.75,221.6 283.00,190.7 283.25,221.7 283.50,191.3 283.75,223.6 284.00,188.8 284.25,220.5 284.50,188.3 284.75,221.4 285.00,186.4 285.25,219.6 285.50,190.0 285.75,220.0 286.00,184.0 286.25,219.5 286.50,191.1 286.75,219.8 287.00,190.9 287.25,220.0 287.50,189.4 287.75,221.6 288.00,192.0 288.25,223.2 288.50,189.0 288.75,220.9 289.00,190.3 289.25,222.3 289.50,190.0 289.75,229.8 290.00,192.1 290.25,220.9 290.50,190.9 290.75,221.6 291.00,189.4 291.25,221.4 291.50,189.1 291.75,227.6 292.00,190.3 292.25,222.9 292.50,189.0 292.75,220.1 293.00,184.0 293.25,223.3 293.50,191.0 293.75,220.9 294.00,192.4 294.25,222.4 294.50,184.1 294.75,224.5 295.00,192.1 295.25,223.1 295.50,187.8 295.75,221.0 296.00,190.1 296.25,220.4 296.50,192.3 296.75,221.7 297.00,189.4 297.25,223.6 297.50,185.6 297.75,221.7 298.00,193.5 298.25,221.8 298.50,190.7 298.75,233.7 299.00,191.2 299.25,223.2 299.50,187.3 299.75,225.9 300.00,189.8 300.25,220.3 300.50,193.1 300.75,221.5 301.00,193.9 301.25,221.2 301.50,190.7 301.75,222.5 302.00,189.9 302.25,225.8 302.50,192.5 302.75,224.9 303.00,192.2 303.25,223.9 303.50,193.4 303.75,225.3 304.00,190.4 304.25,223.5 304.50,191.9 304.75,224.1 305.00,190.4 305.25,229.4 305.50,192.6 305.75,225.9 306.00,193.4 306.25,227.5 306.50,193.2 306.75,231.0 307.00,186.8 307.25,222.1 307.50,189.1 307.75,232.1 308.00,189.9 308.25,222.2 308.50,189.2 308.75,228.2 309.00,192.8 309.25,224.0 309.50,192.5 309.75,231.9 310.00,194.3 310.25,228.3 310.50,191.1 310.75,223.1 311.00,189.7 311.25,226.2 311.50,193.3 311.75,226.3 312.00,187.5 312.25,223.6 312.50,194.2 312.75,225.4 313.00,193.1 313.25,223.7 313.50,192.6 313.75,224.4 314.00,190.2 314.25,224.9 314.50,189.8 314.75,225.2 315.00,194.2 315.25,223.3 315.50,190.9 315.75,231.5 316.00,185.1 316.25,223.0 316.50,194.1 316.75,225.8 317.00,191.5 317.25,224.2 317.50,193.7 317.75,229.5 318.00,191.3 318.25,224.6 318.50,193.9 318.75,224.7 319.00,191.4 319.25,231.6 319.50,194.7 319.75,224.7 320.00,193.2 320.25,225.7 320.50,192.2 320.75,224.3 321.00,193.6 321.25,227.2 321.50,194.7 321.75,226.5 322.00,189.3 322.25,224.1 322.50,194.5 322.75,226.7 323.00,191.2 323.25,225.1 323.50,194.4 323.75,227.2 324.00,193.0 324.25,224.3 324.50,193.4 324.75,228.7 325.00,194.6 325.25,229.2 325.50,194.0 325.75,224.8 326.00,195.9 326.25,226.3 326.50,194.6 326.75,228.2 327.00,194.5 327.25,224.3 327.50,194.2 327.75,226.8 328.00,195.6 328.25,227.4 328.50,195.5 328.75,224.7 329.00,196.6 329.25,225.2 329.50,192.0 329.75,230.7 330.00,195.5 330.25,227.8 330.50,196.0 330.75,226.3 331.00,196.8 331.25,225.1 331.50,195.6 331.75,228.7 332.00,192.5 332.25,226.0 332.50,190.1 332.75,235.3 333.00,196.9 333.25,228.0 333.50,190.4 333.75,230.4 334.00,195.8 334.25,227.9 334.50,196.4 334.75,232.3 335.00,195.0 335.25,228.4 335.50,195.2 335.75,225.8 336.00,192.9 336.25,228.2 336.50,195.4 336.75,227.0 337.00,195.5 337.25,228.2 337.50,195.0 337.75,227.3 338.00,194.0 338.25,227.7 338.50,191.9 338.75,226.7 339.00,195.0 339.25,227.1 339.50,193.9 339.75,228.5 340.00,193.1 340.25,227.5 340.50,193.9 340.75,231.1 341.00,195.1 341.25,230.4 341.50,196.6 341.75,227.4 342.00,196.3 342.25,226.3 342.50,196.6 342.75,232.3 343.00,191.3 343.25,227.6 343.50,197.6 343.75,226.4 344.00,193.0 344.25,227.1 344.50,192.9 344.75,228.0 345.00,194.8 345.25,232.8 345.50,196.7 345.75,231.0 346.00,195.7 346.25,229.0 346.50,195.0 346.75,226.7 347.00,195.8 347.25,228.2 347.50,198.0 347.75,227.8 348.00,197.3 348.25,233.7 348.50,196.6 348.75,228.7 349.00,197.5 349.25,238.3 349.50,195.6 349.75,230.5 350.00,196.2 350.25,227.9 350.50,191.3 350.75,229.7 351.00,197.1 351.25,227.8 351.50,196.8 351.75,230.6 352.00,192.1 352.25,226.6 352.50,194.5 352.75,233.1 353.00,198.0 353.25,230.1 353.50,195.0 353.75,231.8 354.00,198.0 354.25,227.6 354.50,195.8 354.75,238.1 355.00,189.2 355.25,227.8 355.50,197.3 355.75,230.4 356.00,194.7 356.25,227.9 356.50,195.6 356.75,229.4 357.00,192.9 357.25,230.9 357.50,197.9 357.75,227.8 358.00,196.9 358.25,229.9 358.50,195.7 358.75,231.4 359.00,197.7 359.25,228.5 359.50,198.2 359.75,232.9 360.00,196.7 360.25,230.1 360.50,195.5 360.75,228.5 361.00,196.1 361.25,229.3 361.50,198.7 361.75,229.0 362.00,197.0 362.25,230.6 362.50,197.3 362.75,232.4 363.00,194.1 363.25,230.8 363.50,198.8 363.75,231.6 364.00,198.3 364.25,230.9 364.50,193.2 364.75,232.4 365.00,198.3 365.25,234.3 365.50,199.2 365.75,228.7 366.00,198.7 366.25,231.5 366.50,198.8 366.75,230.9 367.00,198.9 367.25,235.8 367.50,194.0 367.75,234.3 368.00,199.2 368.25,229.3 368.50,200.1 368.75,230.4 369.00,194.9 369.25,228.9 369.50,197.9 369.75,232.6 370.00,197.2 370.25,232.3 370.50,198.0 370.75,231.1 371.00,197.4 371.25,229.4 371.50,197.0 371.75,232.9 372.00,198.0 372.25,230.2 372.50,200.5 372.75,233.6 373.00,198.5 373.25,230.4 373.50,200.0 373.75,239.1 374.00,198.0 374.25,236.4 374.50,198.5 374.75,236.4 375.00,195.0 375.25,229.5 375.50,200.1 375.75,235.1 376.00,200.2 376.25,235.6 376.50,200.3 376.75,230.9 377.00,197.7 377.25,232.3 377.50,200.4 377.75,231.5 378.00,200.4 378.25,234.8 378.50,197.4 378.75,240.5 379.00,200.7 379.25,230.6 379.50,201.0 379.75,230.5 380.00,200.6 380.25,234.0 380.50,199.0 380.75,230.9 381.00,201.0 381.25,234.9 381.50,199.2 381.75,232.1 382.00,200.4 382.25,234.1 382.50,197.3 382.75,235.5 383.00,199.7 383.25,233.5 383.50,194.2 383.75,235.9 384.00,199.6 384.25,231.3 384.50,200.7 384.75,231.3 385.00,199.4 385.25,233.7 385.50,199.9 385.75,231.4 386.00,200.5 386.25,233.3 386.50,192.0 386.75,234.8 387.00,196.4 387.25,233.5 387.50,197.2 387.75,234.6 388.00,197.2 388.25,234.4 388.50,201.1 388.75,230.7 389.00,200.7 389.25,233.3 389.50,201.4 389.75,232.9 390.00,197.2 390.25,238.1 390.50,194.7 390.75,237.8 391.00,200.6 391.25,232.9 391.50,200.1 391.75,236.7 392.00,200.7 392.25,233.6 392.50,199.3 392.75,235.9 393.00,199.8 393.25,232.1 393.50,199.5 393.75,236.2 394.00,199.1 394.25,236.4 394.50,199.9 394.75,232.1 395.00,200.6 395.25,235.7 395.50,197.0 395.75,238.7 396.00,199.4 396.25,234.5 396.50,201.5 396.75,238.1 397.00,196.6 397.25,233.1 397.50,200.5 397.75,233.0 398.00,198.3 398.25,232.7 398.50,200.6 398.75,237.4 399.00,195.6 399.25,232.1 399.50,195.7 399.75,237.0 400.00,200.5 400.25,234.6 400.50,200.9 400.75,237.5 401.00,201.1 401.25,235.8 401.50,199.6 401.75,235.3 402.00,199.4 402.25,237.2 402.50,202.9 402.75,238.2 403.00,202.1 403.25,238.8 403.50,197.1 403.75,238.7 404.00,200.5 404.25,237.8 404.50,203.0 404.75,234.5 405.00,200.8 405.25,235.3 405.50,202.1 405.75,233.3 406.00,201.7 406.25,235.3 406.50,202.4 406.75,235.5 407.00,201.7 407.25,240.0 407.50,202.6 407.75,242.1 408.00,201.9 408.25,234.1 408.50,202.4 408.75,233.6 409.00,199.1 409.25,234.8 409.50,201.8 409.75,236.8 410.00,200.8 410.25,242.3 410.50,202.3 410.75,234.2 411.00,199.6 411.25,234.2 411.50,200.9 411.75,234.4 412.00,202.2 412.25,240.3 412.50,198.8 412.75,235.4 413.00,201.8 413.25,236.0 413.50,193.6 413.75,234.7 414.00,201.0 414.25,238.2 414.50,201.2 414.75,236.1 415.00,201.2 415.25,236.9 415.50,198.2 415.75,235.6 416.00,201.2 416.25,235.8 416.50,202.4 416.75,240.6 417.00,203.3 417.25,236.0 417.50,196.8 417.75,238.9 418.00,198.4 418.25,236.3 418.50,197.5 418.75,235.4 419.00,201.9 419.25,238.1 419.50,203.4 419.75,235.8 420.00,201.3 420.25,237.6 420.50,203.3 420.75,240.5 421.00,202.8 421.25,237.0 421.50,198.8 421.75,236.3 422.00,202.9 422.25,240.8 422.50,203.8 422.75,237.5 423.00,202.0 423.25,236.5 423.50,204.3 423.75,237.9 424.00,201.1 424.25,239.8 424.50,203.7 424.75,239.6 425.00,198.9 425.25,239.0 425.50,204.2 425.75,239.4 426.00,204.2 426.25,238.1 426.50,203.3 426.75,236.2 427.00,204.3 427.25,238.3 427.50,202.9 427.75,235.8 428.00,201.6 428.25,239.6 428.50,203.2 428.75,236.7 429.00,201.8 429.25,236.5 429.50,202.5 429.75,243.3 430.00,203.0 430.25,239.2 430.50,204.3 430.75,239.1 431.00,203.5 431.25,238.1 431.50,200.8 431.75,239.0 432.00,201.0 432.25,237.6 432.50,201.9 432.75,238.0 433.00,204.5 433.25,239.1 433.50,200.1 433.75,239.1 434.00,204.5 434.25,236.0 434.50,203.4 434.75,243.2 435.00,198.7 435.25,238.0 435.50,205.6 435.75,241.7 436.00,203.5 436.25,242.8 436.50,201.8 436.75,240.3 437.00,204.3 437.25,238.6 437.50,205.8 437.75,241.0 438.00,201.7 438.25,238.8 438.50,200.8 438.75,237.8 439.00,199.6 439.25,236.7 439.50,205.5 439.75,241.5 440.00,205.9 440.25,240.2 440.50,203.5 440.75,244.4 441.00,198.1 441.25,239.8 441.50,204.6 441.75,240.7 442.00,201.8 442.25,240.5 442.50,205.2 442.75,239.6 443.00,203.1 443.25,241.5 443.50,202.6 443.75,241.7 444.00,205.1 444.25,241.7 444.50,199.3 444.75,238.8 445.00,204.8 445.25,240.0 445.50,199.1 445.75,246.7 446.00,205.7 446.25,241.1 446.50,206.4 446.75,239.4 447.00,206.9 447.25,238.5 447.50,202.1 447.75,244.6 448.00,204.4 448.25,243.8 448.50,205.6 448.75,241.9 449.00,206.1 449.25,240.1 449.50,205.9 449.75,242.7 450.00,201.6 450.25,244.3 450.50,203.9 450.75,241.5 451.00,207.5 451.25,241.3 451.50,207.0 451.75,240.5 452.00,207.2 452.25,241.3 452.50,204.6 452.75,239.8 453.00,205.0 453.25,242.1 453.50,203.1 453.75,239.9 454.00,206.1 454.25,240.3 454.50,206.0 454.75,239.6 455.00,206.4 455.25,239.4 455.50,203.8 455.75,241.9 456.00,207.1 456.25,247.3 456.50,206.5 456.75,239.0 457.00,207.7 457.25,241.7 457.50,203.8 457.75,239.4 458.00,207.4 458.25,241.7 458.50,206.5 458.75,239.5 459.00,205.8 459.25,241.7 459.50,206.4 459.75,241.1 460.00,208.0 460.25,242.2 460.50,204.7 460.75,242.9 461.00,204.1 461.25,241.7 461.50,205.6 461.75,241.9 462.00,206.6 462.25,240.6 462.50,206.1 462.75,241.0 463.00,199.0 463.25,241.5 463.50,207.2 463.75,242.0 464.00,207.4 464.25,242.8 464.50,204.1 464.75,243.2 465.00,200.7 465.25,240.1 465.50,203.4 465.75,245.0 466.00,206.1 466.25,243.2 466.50,200.8 466.75,242.2 467.00,207.1 467.25,242.4 467.50,204.9 467.75,240.8 468.00,208.3 468.25,243.7 468.50,204.2 468.75,239.6 469.00,206.4 469.25,239.7 469.50,202.8 469.75,244.2 470.00,208.8 470.25,241.3 470.50,205.6 470.75,242.1 471.00,206.6 471.25,241.2 471.50,206.9 471.75,244.3 472.00,206.0 472.25,240.9 472.50,207.1 472.75,242.7 473.00,204.8 473.25,243.7 473.50,208.3 473.75,247.5 474.00,205.6 474.25,245.7 474.50,203.7 474.75,242.9 475.00,208.2 475.25,245.0 475.50,200.6 475.75,241.9 476.00,206.9 476.25,242.9 476.50,207.9 476.75,244.9 477.00,205.6 477.25,247.1 477.50,205.7 477.75,241.1 478.00,206.2 478.25,242.3 478.50,209.0 478.75,244.3 479.00,205.0 479.25,244.7 479.50,205.1 479.75,243.9 480.00,208.3 480.25,242.9 480.50,201.9 480.75,241.5 481.00,207.3 481.25,241.3 481.50,206.4 481.75,244.4 482.00,209.1 482.25,242.3 482.50,206.1 482.75,242.9 483.00,208.8 483.25,242.0 483.50,209.2 483.75,242.5 484.00,207.0 484.25,241.8 484.50,203.7 484.75,242.8 485.00,208.4 485.25,242.9 485.50,208.9 485.75,244.6 486.00,204.4 486.25,242.0 486.50,205.0 486.75,241.1 487.00,207.5 487.25,242.9 487.50,206.8 487.75,244.2 488.00,209.0 488.25,242.6 488.50,209.2 488.75,245.7 489.00,209.3 489.25,243.7 489.50,208.1 489.75,242.2 490.00,205.7 490.25,245.5 490.50,208.1 490.75,244.5 491.00,207.5 491.25,243.3 491.50,205.9 491.75,243.2 492.00,209.8 492.25,242.0 492.50,205.2 492.75,241.3 493.00,206.9 493.25,245.0 493.50,209.1 493.75,245.9 494.00,208.0 494.25,245.2 494.50,209.5 494.75,244.2 495.00,206.3 495.25,243.2 495.50,207.6 495.75,248.9 496.00,208.0 496.25,244.7 496.50,209.3 496.75,247.1 497.00,206.7 497.25,243.9 497.50,206.6 497.75,245.9 498.00,206.2 498.25,246.3 498.50,209.6 498.75,242.7 499.00,208.2 499.25,242.1 499.50,208.4 499.75,245.6 500.00,205.6 500.25,246.8 500.50,205.9 500.75,245.7 501.00,206.7 501.25,243.6 501.50,205.6 501.75,242.0 502.00,207.6 502.25,243.2 502.50,199.7 502.75,247.2 503.00,208.1 503.25,246.6 503.50,207.8 503.75,243.9 504.00,209.3 504.25,246.6 504.50,207.1 504.75,244.1 505.00,207.2 505.25,243.0 505.50,204.8 505.75,244.6 506.00,206.9 506.25,243.3 506.50,209.4 506.75,247.0 507.00,207.7 507.25,243.3 507.50,207.6 507.75,245.2 508.00,206.3 508.25,248.0 508.50,207.6 508.75,244.6 509.00,208.6 509.25,243.4 509.50,207.5 509.75,247.3 510.00,207.5 510.25,246.0 510.50,209.2 510.75,248.0 511.00,209.0 511.25,244.7 511.50,207.6 511.75,245.9 512.00,205.2 512.25,244.6 512.50,207.4 512.75,246.3 513.00,207.9 513.25,245.1 513.50,206.8 513.75,244.2 514.00,207.7 514.25,243.1 514.50,209.8 514.75,243.7 515.00,208.7 515.25,244.3 515.50,204.8 515.75,246.1 516.00,207.6 516.25,246.3 516.50,209.4 516.75,244.8 517.00,207.6 517.25,247.3 517.50,208.1 517.75,250.6 518.00,201.0 518.25,244.5 518.50,209.2 518.75,247.0 519.00,206.5 519.25,246.2 519.50,204.8 519.75,246.1 520.00,206.4 520.25,245.6 520.50,209.4 520.75,242.5 521.00,207.6 521.25,248.3 521.50,209.1 521.75,242.7 522.00,208.6 522.25,246.0 522.50,206.4 522.75,247.6 523.00,209.9 523.25,247.0 523.50,205.7 523.75,243.7 524.00,203.3 524.25,243.6 524.50,206.1 524.75,245.9 525.00,208.5 525.25,243.2 525.50,202.9 525.75,249.9 526.00,207.2 526.25,250.6 526.50,210.0 526.75,245.4 527.00,209.3 527.25,245.3 527.50,207.3 527.75,246.2 528.00,207.7 528.25,252.5" fill="none" stroke="#D95319" stroke-width="0.95" stroke-linejoin="round"/>
<path d="M55.0,123.5 56.0,139.0 57.0,145.5 58.0,150.3 59.0,155.1 60.0,157.9 61.0,159.8 62.0,161.7 63.0,163.2 64.0,164.6 65.0,166.0 66.0,167.3 67.0,168.7 68.0,169.9 69.0,171.2 70.0,172.4 71.0,173.8 72.0,175.1 73.0,176.5 74.0,177.8 75.0,178.9 76.0,180.1 77.0,181.2 78.0,182.6 79.0,184.2 80.0,185.1 81.0,185.6 82.0,186.1 83.0,186.7 84.0,187.2 85.0,187.7 86.0,188.2 87.0,188.8 88.0,189.3 89.0,189.8 90.0,190.3 91.0,191.1 92.0,191.9 93.0,192.7 94.0,193.3 95.0,193.9 96.0,194.5 97.0,195.1 98.0,195.7 99.0,196.3 100.0,196.9 101.0,197.5 102.0,198.1 103.0,198.7 104.0,199.3 105.0,199.8 106.0,200.5 107.0,201.1 108.0,201.7 109.0,202.3 110.0,202.9 111.0,203.4 112.0,203.9 113.0,204.5 114.0,205.0 115.0,205.6 116.0,206.1 117.0,206.6 118.0,207.2 119.0,207.7 120.0,208.2 121.0,208.8 122.0,209.3 123.0,209.9 124.0,210.3 125.0,210.8 126.0,211.3 127.0,211.8 128.0,212.3 129.0,212.7 130.0,213.2 131.0,213.7 132.0,214.2 133.0,214.6 134.0,215.1 135.0,215.6 136.0,216.0 137.0,216.4 138.0,216.8 139.0,217.2 140.0,217.6 141.0,218.0 142.0,218.4 143.0,218.7 144.0,219.1 145.0,219.5 146.0,219.9 147.0,220.2 148.0,220.6 149.0,221.0 150.0,221.4 151.0,221.7 152.0,222.0 153.0,222.4 154.0,222.7 155.0,223.0 156.0,223.3 157.0,223.6 158.0,223.9 159.0,224.2 160.0,224.6 161.0,224.9 162.0,225.2 163.0,225.5 164.0,225.8 165.0,226.2 166.0,226.5 167.0,226.8 168.0,227.3 169.0,227.7 170.0,228.2 171.0,228.7 172.0,229.2 173.0,229.7 174.0,230.1 175.0,230.6 176.0,231.1 177.0,231.6 178.0,232.0 179.0,232.5 180.0,233.0 181.0,233.3 182.0,233.6 183.0,233.9 184.0,234.1 185.0,234.4 186.0,234.7 187.0,235.0 188.0,235.3 189.0,235.6 190.0,235.8 191.0,236.1 192.0,236.4 193.0,236.7 194.0,237.0 195.0,237.3 196.0,237.5 197.0,237.9 198.0,238.4 199.0,238.8 200.0,239.3 201.0,239.7 202.0,240.1 203.0,240.6 204.0,241.0 205.0,241.4 206.0,241.9 207.0,242.3 208.0,242.7 209.0,243.2 210.0,243.5 211.0,243.7 212.0,244.0 213.0,244.3 214.0,244.5 215.0,244.8 216.0,245.1 217.0,245.3 218.0,245.6 219.0,245.8 220.0,246.1 221.0,246.4 222.0,246.6 223.0,246.9 224.0,247.2 225.0,247.4 226.0,247.7 227.0,247.9 228.0,248.2 229.0,248.5 230.0,248.7 231.0,248.9 232.0,249.1 233.0,249.4 234.0,249.6 235.0,249.8 236.0,250.0 237.0,250.3 238.0,250.5 239.0,250.7 240.0,250.9 241.0,251.1 242.0,251.4 243.0,251.6 244.0,251.8 245.0,252.0 246.0,252.3 247.0,252.5 248.0,252.7 249.0,252.9 250.0,253.1 251.0,253.4 252.0,253.6 253.0,253.8 254.0,254.0 255.0,254.3 256.0,254.5 257.0,254.7 258.0,254.9 259.0,255.2 260.0,255.4 261.0,255.6 262.0,255.8 263.0,256.0 264.0,256.2 265.0,256.4 266.0,256.6 267.0,256.8 268.0,257.0 269.0,257.2 270.0,257.4 271.0,257.6 272.0,257.9 273.0,258.1 274.0,258.4 275.0,258.6 276.0,258.8 277.0,259.1 278.0,259.3 279.0,259.6 280.0,259.8 281.0,260.1 282.0,260.3 283.0,260.5 284.0,260.8 285.0,261.0 286.0,261.3 287.0,261.5 288.0,261.7 289.0,261.9 290.0,262.1 291.0,262.3 292.0,262.5 293.0,262.7 294.0,262.9 295.0,263.1 296.0,263.3 297.0,263.4 298.0,263.6 299.0,263.8 300.0,264.0 301.0,264.2 302.0,264.4 303.0,264.6 304.0,264.8 305.0,264.9 306.0,265.1 307.0,265.3 308.0,265.5 309.0,265.7 310.0,265.9 311.0,266.1 312.0,266.3 313.0,266.5 314.0,266.6 315.0,266.8 316.0,267.0 317.0,267.2 318.0,267.4 319.0,267.6 320.0,267.8 321.0,268.0 322.0,268.2 323.0,268.4 324.0,268.6 325.0,268.8 326.0,269.0 327.0,269.2 328.0,269.4 329.0,269.6 330.0,269.8 331.0,270.0 332.0,270.2 333.0,270.4 334.0,270.6 335.0,270.8 336.0,271.0 337.0,271.2 338.0,271.4 339.0,271.6 340.0,271.8 341.0,272.0 342.0,272.2 343.0,272.4 344.0,272.6 345.0,272.8 346.0,273.0 347.0,273.2 348.0,273.4 349.0,273.6 350.0,273.8 351.0,274.0 352.0,274.2 353.0,274.3 354.0,274.5 355.0,274.7 356.0,274.9 357.0,275.1 358.0,275.3 359.0,275.4 360.0,275.6 361.0,275.8 362.0,276.0 363.0,276.2 364.0,276.4 365.0,276.6 366.0,276.7 367.0,276.9 368.0,277.1 369.0,277.3 370.0,277.5 371.0,277.6 372.0,277.8 373.0,277.9 374.0,278.1 375.0,278.2 376.0,278.4 377.0,278.5 378.0,278.7 379.0,278.8 380.0,279.0 381.0,279.1 382.0,279.3 383.0,279.4 384.0,279.6 385.0,279.7 386.0,279.9 387.0,280.0 388.0,280.2 389.0,280.3 390.0,280.5 391.0,280.6 392.0,280.8 393.0,280.9 394.0,281.1 395.0,281.3 396.0,281.4 397.0,281.6 398.0,281.7 399.0,281.9 400.0,282.0 401.0,282.2 402.0,282.3 403.0,282.5 404.0,282.6 405.0,282.8 406.0,283.0 407.0,283.1 408.0,283.3 409.0,283.4 410.0,283.6 411.0,283.8 412.0,283.9 413.0,284.1 414.0,284.2 415.0,284.4 416.0,284.5 417.0,284.7 418.0,284.9 419.0,285.0 420.0,285.2 421.0,285.3 422.0,285.5 423.0,285.7 424.0,285.8 425.0,286.0 426.0,286.1 427.0,286.3 428.0,286.4 429.0,286.6 430.0,286.7 431.0,286.9 432.0,287.0 433.0,287.2 434.0,287.3 435.0,287.4 436.0,287.6 437.0,287.7 438.0,287.9 439.0,288.0 440.0,288.1 441.0,288.3 442.0,288.4 443.0,288.6 444.0,288.8 445.0,288.9 446.0,289.1 447.0,289.2 448.0,289.4 449.0,289.5 450.0,289.7 451.0,289.9 452.0,290.0 453.0,290.2 454.0,290.3 455.0,290.5 456.0,290.6 457.0,290.8 458.0,290.9 459.0,291.1 460.0,291.2 461.0,291.3 462.0,291.4 463.0,291.6 464.0,291.7 465.0,291.8 466.0,291.9 467.0,292.1 468.0,292.2 469.0,292.3 470.0,292.4 471.0,292.6 472.0,292.7 473.0,292.8 474.0,292.9 475.0,293.1 476.0,293.2 477.0,293.3 478.0,293.4 479.0,293.6 480.0,293.7 481.0,293.8 482.0,293.9 483.0,294.1 484.0,294.2 485.0,294.3 486.0,294.4 487.0,294.6 488.0,294.7 489.0,294.8 490.0,294.9 491.0,295.0 492.0,295.0 493.0,295.1 494.0,295.2 495.0,295.3 496.0,295.4 497.0,295.5 498.0,295.6 499.0,295.7 500.0,295.8 501.0,295.9 502.0,296.0 503.0,296.1 504.0,296.2 505.0,296.3 506.0,296.4 507.0,296.5 508.0,296.6 509.0,296.7 510.0,296.8 511.0,296.9 512.0,297.0 513.0,297.1 514.0,297.2 515.0,297.3 516.0,297.3 517.0,297.4 518.0,297.5 519.0,297.6 520.0,297.7 521.0,297.8 522.0,297.9 523.0,298.0 524.0,298.1 525.0,298.2 526.0,298.3 527.0,298.4 528.0,298.5 528.0,323.5 527.0,323.4 526.0,323.4 525.0,323.3 524.0,323.2 523.0,323.2 522.0,323.1 521.0,323.0 520.0,323.0 519.0,322.9 518.0,322.8 517.0,322.8 516.0,322.7 515.0,322.6 514.0,322.6 513.0,322.5 512.0,322.4 511.0,322.4 510.0,322.3 509.0,322.2 508.0,322.2 507.0,322.1 506.0,322.0 505.0,322.0 504.0,321.9 503.0,321.8 502.0,321.8 501.0,321.7 500.0,321.6 499.0,321.5 498.0,321.5 497.0,321.4 496.0,321.3 495.0,321.3 494.0,321.2 493.0,321.1 492.0,321.1 491.0,321.0 490.0,320.9 489.0,320.9 488.0,320.8 487.0,320.7 486.0,320.6 485.0,320.5 484.0,320.4 483.0,320.3 482.0,320.2 481.0,320.1 480.0,319.9 479.0,319.8 478.0,319.7 477.0,319.6 476.0,319.5 475.0,319.4 474.0,319.3 473.0,319.1 472.0,319.0 471.0,318.9 470.0,318.8 469.0,318.7 468.0,318.6 467.0,318.5 466.0,318.3 465.0,318.2 464.0,318.1 463.0,318.0 462.0,317.9 461.0,317.8 460.0,317.7 459.0,317.5 458.0,317.4 457.0,317.3 456.0,317.1 455.0,317.0 454.0,316.8 453.0,316.7 452.0,316.6 451.0,316.4 450.0,316.3 449.0,316.1 448.0,316.0 447.0,315.8 446.0,315.7 445.0,315.5 444.0,315.4 443.0,315.2 442.0,315.1 441.0,314.9 440.0,314.8 439.0,314.6 438.0,314.5 437.0,314.3 436.0,314.2 435.0,314.0 434.0,313.9 433.0,313.7 432.0,313.6 431.0,313.4 430.0,313.3 429.0,313.1 428.0,313.0 427.0,312.8 426.0,312.6 425.0,312.5 424.0,312.3 423.0,312.1 422.0,312.0 421.0,311.8 420.0,311.6 419.0,311.5 418.0,311.4 417.0,311.3 416.0,311.2 415.0,311.0 414.0,310.9 413.0,310.8 412.0,310.7 411.0,310.6 410.0,310.5 409.0,310.3 408.0,310.2 407.0,310.1 406.0,310.0 405.0,309.9 404.0,309.7 403.0,309.6 402.0,309.5 401.0,309.4 400.0,309.3 399.0,309.2 398.0,309.0 397.0,308.9 396.0,308.8 395.0,308.7 394.0,308.6 393.0,308.4 392.0,308.3 391.0,308.2 390.0,308.1 389.0,308.0 388.0,307.8 387.0,307.7 386.0,307.6 385.0,307.5 384.0,307.3 383.0,307.2 382.0,307.1 381.0,307.0 380.0,306.9 379.0,306.7 378.0,306.6 377.0,306.5 376.0,306.4 375.0,306.3 374.0,306.1 373.0,306.0 372.0,305.9 371.0,305.8 370.0,305.7 369.0,305.5 368.0,305.3 367.0,305.1 366.0,305.0 365.0,304.8 364.0,304.6 363.0,304.4 362.0,304.2 361.0,304.1 360.0,303.9 359.0,303.7 358.0,303.5 357.0,303.4 356.0,303.2 355.0,303.0 354.0,302.8 353.0,302.7 352.0,302.5 351.0,302.3 350.0,302.1 349.0,301.9 348.0,301.8 347.0,301.6 346.0,301.4 345.0,301.3 344.0,301.1 343.0,301.0 342.0,300.8 341.0,300.7 340.0,300.6 339.0,300.4 338.0,300.2 337.0,300.0 336.0,299.9 335.0,299.7 334.0,299.5 333.0,299.4 332.0,299.2 331.0,299.0 330.0,298.8 329.0,298.7 328.0,298.5 327.0,298.3 326.0,298.2 325.0,298.0 324.0,297.8 323.0,297.6 322.0,297.5 321.0,297.3 320.0,297.1 319.0,296.9 318.0,296.8 317.0,296.6 316.0,296.4 315.0,296.2 314.0,296.0 313.0,295.8 312.0,295.6 311.0,295.4 310.0,295.2 309.0,295.0 308.0,294.8 307.0,294.6 306.0,294.4 305.0,294.2 304.0,294.0 303.0,293.8 302.0,293.6 301.0,293.4 300.0,293.2 299.0,293.0 298.0,292.8 297.0,292.6 296.0,292.4 295.0,292.2 294.0,292.0 293.0,291.8 292.0,291.7 291.0,291.5 290.0,291.3 289.0,291.0 288.0,290.8 287.0,290.5 286.0,290.3 285.0,290.0 284.0,289.7 283.0,289.4 282.0,289.1 281.0,288.9 280.0,288.6 279.0,288.3 278.0,288.0 277.0,287.8 276.0,287.5 275.0,287.2 274.0,286.9 273.0,286.6 272.0,286.4 271.0,286.1 270.0,285.8 269.0,285.5 268.0,285.2 267.0,285.0 266.0,284.7 265.0,284.4 264.0,284.1 263.0,283.9 262.0,283.6 261.0,283.3 260.0,283.0 259.0,282.7 258.0,282.4 257.0,282.1 256.0,281.8 255.0,281.5 254.0,281.1 253.0,280.8 252.0,280.5 251.0,280.1 250.0,279.8 249.0,279.5 248.0,279.2 247.0,278.8 246.0,278.5 245.0,278.2 244.0,277.9 243.0,277.5 242.0,277.2 241.0,276.9 240.0,276.6 239.0,276.2 238.0,275.9 237.0,275.6 236.0,275.2 235.0,274.9 234.0,274.6 233.0,274.3 232.0,273.9 231.0,273.6 230.0,273.3 229.0,273.0 228.0,272.6 227.0,272.3 226.0,272.0 225.0,271.6 224.0,271.3 223.0,271.0 222.0,270.7 221.0,270.3 220.0,270.0 219.0,269.8 218.0,269.6 217.0,269.4 216.0,269.2 215.0,269.0 214.0,268.8 213.0,268.6 212.0,268.4 211.0,268.2 210.0,268.0 209.0,267.8 208.0,267.6 207.0,267.4 206.0,267.2 205.0,267.0 204.0,266.8 203.0,266.6 202.0,266.4 201.0,266.2 200.0,266.0 199.0,264.8 198.0,263.6 197.0,262.4 196.0,261.4 195.0,261.2 194.0,261.1 193.0,261.0 192.0,260.8 191.0,260.7 190.0,260.6 189.0,260.4 188.0,260.3 187.0,260.2 186.0,260.1 185.0,259.9 184.0,259.8 183.0,259.7 182.0,259.5 181.0,259.4 180.0,259.2 179.0,258.9 178.0,258.7 177.0,258.5 176.0,258.2 175.0,258.0 174.0,257.8 173.0,257.5 172.0,257.3 171.0,257.0 170.0,256.8 169.0,256.6 168.0,256.3 167.0,256.1 166.0,255.8 165.0,255.5 164.0,255.2 163.0,255.0 162.0,254.7 161.0,254.4 160.0,254.1 159.0,253.8 158.0,253.5 157.0,253.2 156.0,253.0 155.0,252.7 154.0,252.4 153.0,252.1 152.0,251.8 151.0,251.6 150.0,251.3 149.0,251.0 148.0,250.6 147.0,250.3 146.0,249.9 145.0,249.6 144.0,249.2 143.0,248.9 142.0,248.5 141.0,248.2 140.0,247.8 139.0,247.5 138.0,247.1 137.0,246.7 136.0,246.2 135.0,245.8 134.0,245.4 133.0,244.9 132.0,244.5 131.0,244.0 130.0,243.6 129.0,243.2 128.0,242.7 127.0,242.3 126.0,241.8 125.0,241.4 124.0,240.9 123.0,240.5 122.0,240.0 121.0,239.5 120.0,239.1 119.0,238.6 118.0,238.1 117.0,237.6 116.0,237.1 115.0,236.6 114.0,236.2 113.0,235.6 112.0,235.1 111.0,234.5 110.0,234.0 109.0,233.4 108.0,232.8 107.0,232.1 106.0,231.4 105.0,230.7 104.0,230.1 103.0,229.4 102.0,228.7 101.0,228.0 100.0,227.3 99.0,226.6 98.0,225.9 97.0,225.2 96.0,224.5 95.0,223.7 94.0,223.0 93.0,222.1 92.0,221.3 91.0,220.4 90.0,219.5 89.0,218.6 88.0,217.8 87.0,216.9 86.0,216.0 85.0,215.2 84.0,214.3 83.0,213.4 82.0,212.5 81.0,211.7 80.0,210.8 79.0,209.8 78.0,208.7 77.0,207.6 76.0,206.4 75.0,205.2 74.0,204.1 73.0,202.7 72.0,201.3 71.0,200.0 70.0,198.6 69.0,197.2 68.0,195.6 67.0,193.7 66.0,191.7 65.0,189.8 64.0,187.9 63.0,185.9 62.0,183.8 61.0,181.6 60.0,179.5 59.0,177.2 58.0,174.0 57.0,170.8 56.0,161.5 55.0,142.5Z" fill="#EDB120" stroke="none"/>
<path d="M54.00,55.4L54.25,91.4 54.50,95.6 54.75,131.7 55.00,118.4 55.25,151.5 55.50,131.9 55.75,163.2 56.00,133.1 56.25,168.6 56.50,131.6 56.75,178.6 57.00,139.8 57.25,175.1 57.50,145.0 57.75,177.5 58.00,146.1 58.25,177.1 58.50,149.2 58.75,179.0 59.00,152.6 59.25,187.9 59.50,151.4 59.75,184.5 60.00,150.6 60.25,183.6 60.50,153.6 60.75,188.3 61.00,150.8 61.25,185.9 61.50,158.0 61.75,188.0 62.00,158.0 62.25,189.4 62.50,160.2 62.75,188.1 63.00,159.0 63.25,190.5 63.50,156.3 63.75,193.9 64.00,160.7 64.25,193.6 64.50,162.0 64.75,191.0 65.00,160.3 65.25,193.7 65.50,159.4 65.75,204.4 66.00,163.0 66.25,194.5 66.50,164.2 66.75,196.0 67.00,161.3 67.25,198.4 67.50,164.3 67.75,196.9 68.00,162.3 68.25,197.3 68.50,167.6 68.75,205.1 69.00,167.2 69.25,199.1 69.50,168.8 69.75,205.6 70.00,170.4 70.25,203.5 70.50,170.7 70.75,204.6 71.00,168.6 71.25,211.0 71.50,168.4 71.75,203.1 72.00,171.7 72.25,203.3 72.50,172.6 72.75,209.7 73.00,169.0 73.25,210.5 73.50,174.3 73.75,208.8 74.00,172.6 74.25,206.8 74.50,176.1 74.75,206.8 75.00,177.0 75.25,209.1 75.50,175.2 75.75,211.2 76.00,176.3 76.25,208.6 76.50,177.7 76.75,214.5 77.00,179.1 77.25,210.6 77.50,177.3 77.75,211.8 78.00,179.9 78.25,216.2 78.50,174.2 78.75,212.7 79.00,179.1 79.25,217.1 79.50,181.7 79.75,215.2 80.00,182.7 80.25,213.6 80.50,181.5 80.75,214.2 81.00,182.7 81.25,217.2 81.50,183.6 81.75,218.4 82.00,180.8 82.25,219.0 82.50,183.7 82.75,221.1 83.00,181.5 83.25,219.7 83.50,183.9 83.75,219.7 84.00,182.4 84.25,218.1 84.50,183.0 84.75,218.9 85.00,181.0 85.25,217.5 85.50,182.0 85.75,218.7 86.00,185.7 86.25,220.3 86.50,182.4 86.75,220.0 87.00,179.0 87.25,218.4 87.50,186.4 87.75,219.5 88.00,183.6 88.25,226.7 88.50,185.7 88.75,220.3 89.00,185.0 89.25,226.7 89.50,178.1 89.75,224.2 90.00,187.8 90.25,225.4 90.50,186.5 90.75,225.9 91.00,188.7 91.25,223.7 91.50,187.9 91.75,223.6 92.00,185.6 92.25,224.5 92.50,188.3 92.75,227.9 93.00,190.2 93.25,224.5 93.50,186.5 93.75,227.0 94.00,188.3 94.25,227.9 94.50,190.8 94.75,229.0 95.00,188.8 95.25,229.0 95.50,192.3 95.75,226.0 96.00,190.1 96.25,234.8 96.50,191.3 96.75,227.8 97.00,188.0 97.25,231.3 97.50,191.6 97.75,229.6 98.00,193.7 98.25,229.8 98.50,184.1 98.75,229.4 99.00,192.2 99.25,235.6 99.50,192.2 99.75,230.5 100.00,194.7 100.25,229.4 100.50,187.6 100.75,229.6 101.00,189.0 101.25,231.0 101.50,189.8 101.75,235.6 102.00,193.0 102.25,232.1 102.50,191.9 102.75,233.5 103.00,192.5 103.25,236.8 103.50,196.8 103.75,236.2 104.00,191.5 104.25,236.8 104.50,197.3 104.75,236.3 105.00,194.3 105.25,235.1 105.50,194.1 105.75,235.9 106.00,198.5 106.25,237.0 106.50,194.3 106.75,236.6 107.00,196.0 107.25,236.6 107.50,196.6 107.75,235.7 108.00,198.3 108.25,235.3 108.50,197.5 108.75,236.8 109.00,196.0 109.25,236.1 109.50,199.9 109.75,235.4 110.00,200.5 110.25,240.8 110.50,196.4 110.75,236.6 111.00,201.7 111.25,241.2 111.50,196.5 111.75,240.6 112.00,202.2 112.25,239.3 112.50,200.4 112.75,244.6 113.00,196.9 113.25,237.5 113.50,197.5 113.75,240.2 114.00,201.8 114.25,244.6 114.50,198.8 114.75,241.4 115.00,199.4 115.25,239.4 115.50,204.3 115.75,238.8 116.00,201.1 116.25,241.5 116.50,203.9 116.75,239.1 117.00,196.7 117.25,244.0 117.50,204.1 117.75,243.7 118.00,197.1 118.25,239.2 118.50,202.1 118.75,241.5 119.00,201.0 119.25,247.0 119.50,201.6 119.75,245.0 120.00,203.2 120.25,241.3 120.50,205.5 120.75,241.3 121.00,205.7 121.25,241.6 121.50,206.1 121.75,242.4 122.00,206.9 122.25,245.4 122.50,206.2 122.75,245.0 123.00,205.6 123.25,249.1 123.50,206.5 123.75,246.0 124.00,203.5 124.25,248.1 124.50,207.0 124.75,244.9 125.00,204.3 125.25,244.5 125.50,205.9 125.75,244.3 126.00,202.6 126.25,243.8 126.50,206.1 126.75,252.5 127.00,204.3 127.25,244.7 127.50,206.0 127.75,249.8 128.00,208.1 128.25,246.0 128.50,205.7 128.75,248.5 129.00,210.2 129.25,248.9 129.50,208.4 129.75,251.6 130.00,208.6 130.25,246.5 130.50,206.9 130.75,248.5 131.00,211.5 131.25,247.3 131.50,209.8 131.75,250.1 132.00,208.5 132.25,252.2 132.50,208.2 132.75,247.2 133.00,211.5 133.25,251.4 133.50,212.6 133.75,248.5 134.00,210.1 134.25,247.0 134.50,213.1 134.75,248.0 135.00,211.2 135.25,251.1 135.50,211.7 135.75,250.6 136.00,211.4 136.25,248.9 136.50,208.5 136.75,249.9 137.00,209.9 137.25,251.0 137.50,211.4 137.75,253.3 138.00,211.0 138.25,249.4 138.50,213.1 138.75,249.4 139.00,212.2 139.25,254.6 139.50,212.6 139.75,251.2 140.00,214.4 140.25,250.0 140.50,213.3 140.75,255.6 141.00,208.2 141.25,253.2 141.50,214.1 141.75,251.1 142.00,213.8 142.25,252.4 142.50,215.9 142.75,252.9 143.00,215.9 143.25,251.1 143.50,216.5 143.75,251.5 144.00,216.2 144.25,257.8 144.50,211.3 144.75,254.3 145.00,215.2 145.25,254.0 145.50,217.9 145.75,254.2 146.00,212.3 146.25,253.4 146.50,216.9 146.75,254.2 147.00,217.6 147.25,257.2 147.50,212.3 147.75,253.9 148.00,216.3 148.25,256.4 148.50,210.7 148.75,252.2 149.00,216.3 149.25,254.9 149.50,218.2 149.75,257.1 150.00,218.3 150.25,256.0 150.50,217.2 150.75,254.1 151.00,218.5 151.25,256.9 151.50,216.3 151.75,260.6 152.00,218.2 152.25,252.9 152.50,212.5 152.75,256.5 153.00,219.1 153.25,256.5 153.50,217.5 153.75,256.8 154.00,212.9 154.25,254.6 154.50,216.8 154.75,260.6 155.00,214.2 155.25,254.9 155.50,214.7 155.75,256.8 156.00,219.4 156.25,258.8 156.50,220.1 156.75,259.5 157.00,221.9 157.25,262.1 157.50,219.6 157.75,255.6 158.00,220.0 158.25,256.2 158.50,219.2 158.75,259.9 159.00,215.3 159.25,259.4 159.50,220.6 159.75,257.9 160.00,220.9 160.25,255.0 160.50,219.4 160.75,258.2 161.00,221.1 161.25,258.1 161.50,221.7 161.75,258.1 162.00,222.3 162.25,256.2 162.50,221.2 162.75,262.7 163.00,220.6 163.25,256.7 163.50,223.0 163.75,260.3 164.00,222.6 164.25,258.0 164.50,221.7 164.75,263.0 165.00,223.4 165.25,258.1 165.50,220.1 165.75,258.3 166.00,220.1 166.25,262.4 166.50,223.0 166.75,258.2 167.00,214.8 167.25,261.9 167.50,220.4 167.75,259.3 168.00,221.9 168.25,260.2 168.50,222.5 168.75,263.5 169.00,220.5 169.25,263.0 169.50,219.6 169.75,259.7 170.00,223.1 170.25,262.0 170.50,216.5 170.75,262.3 171.00,224.4 171.25,263.0 171.50,225.7 171.75,260.1 172.00,226.3 172.25,267.1 172.50,226.0 172.75,260.1 173.00,225.8 173.25,259.3 173.50,226.4 173.75,261.0 174.00,226.9 174.25,262.0 174.50,224.8 174.75,270.8 175.00,228.2 175.25,260.4 175.50,228.5 175.75,261.9 176.00,226.9 176.25,261.0 176.50,227.8 176.75,262.5 177.00,228.8 177.25,261.9 177.50,221.5 177.75,266.2 178.00,228.4 178.25,261.1 178.50,227.3 178.75,261.6 179.00,230.2 179.25,264.2 179.50,220.8 179.75,263.1 180.00,229.5 180.25,266.2 180.50,226.7 180.75,262.2 181.00,228.7 181.25,265.9 181.50,227.9 181.75,262.4 182.00,230.4 182.25,262.0 182.50,232.0 182.75,265.8 183.00,231.7 183.25,264.3 183.50,225.3 183.75,264.2 184.00,228.7 184.25,261.8 184.50,228.7 184.75,262.7 185.00,231.2 185.25,264.6 185.50,231.0 185.75,262.7 186.00,231.2 186.25,262.2 186.50,232.4 186.75,262.8 187.00,229.2 187.25,264.0 187.50,232.1 187.75,262.1 188.00,233.3 188.25,266.6 188.50,231.2 188.75,262.1 189.00,231.6 189.25,263.9 189.50,232.6 189.75,264.8 190.00,231.2 190.25,263.3 190.50,230.5 190.75,264.4 191.00,229.1 191.25,262.0 191.50,233.1 191.75,263.6 192.00,233.4 192.25,266.2 192.50,230.8 192.75,265.3 193.00,232.4 193.25,264.2 193.50,233.4 193.75,265.9 194.00,230.8 194.25,264.3 194.50,229.3 194.75,264.2 195.00,231.5 195.25,267.1 195.50,234.7 195.75,264.4 196.00,235.9 196.25,264.0 196.50,231.4 196.75,268.0 197.00,234.3 197.25,273.9 197.50,234.2 197.75,264.4 198.00,227.6 198.25,271.7 198.50,232.3 198.75,273.5 199.00,234.3 199.25,267.7 199.50,234.9 199.75,267.4 200.00,237.2 200.25,268.2 200.50,234.0 200.75,271.7 201.00,235.8 201.25,268.7 201.50,234.9 201.75,267.7 202.00,232.3 202.25,267.8 202.50,237.4 202.75,271.5 203.00,235.3 203.25,270.5 203.50,239.0 203.75,270.6 204.00,239.1 204.25,270.1 204.50,236.2 204.75,274.1 205.00,235.3 205.25,270.3 205.50,238.6 205.75,271.1 206.00,234.8 206.25,274.2 206.50,238.0 206.75,272.4 207.00,235.4 207.25,269.1 207.50,239.6 207.75,276.3 208.00,240.0 208.25,270.0 208.50,235.7 208.75,269.6 209.00,235.4 209.25,272.8 209.50,240.6 209.75,269.6 210.00,235.5 210.25,270.8 210.50,238.6 210.75,274.5 211.00,241.1 211.25,273.2 211.50,241.0 211.75,272.2 212.00,240.0 212.25,276.0 212.50,240.4 212.75,271.4 213.00,238.0 213.25,270.8 213.50,240.8 213.75,275.9 214.00,242.5 214.25,277.0 214.50,238.3 214.75,273.0 215.00,234.7 215.25,274.1 215.50,243.0 215.75,274.6 216.00,238.5 216.25,272.8 216.50,243.1 216.75,270.4 217.00,239.7 217.25,274.9 217.50,242.0 217.75,272.7 218.00,243.2 218.25,274.2 218.50,241.4 218.75,273.5 219.00,242.9 219.25,276.9 219.50,237.1 219.75,274.8 220.00,242.3 220.25,274.0 220.50,241.4 220.75,271.3 221.00,242.2 221.25,273.4 221.50,240.3 221.75,279.0 222.00,243.6 222.25,280.7 222.50,236.5 222.75,276.9 223.00,242.3 223.25,275.3 223.50,242.4 223.75,274.7 224.00,242.9 224.25,272.5 224.50,242.7 224.75,273.9 225.00,243.8 225.25,276.6 225.50,244.1 225.75,275.0 226.00,244.1 226.25,277.4 226.50,243.0 226.75,277.3 227.00,241.3 227.25,280.5 227.50,243.2 227.75,279.9 228.00,244.4 228.25,278.0 228.50,243.2 228.75,278.6 229.00,242.0 229.25,280.8 229.50,243.2 229.75,278.9 230.00,239.6 230.25,275.9 230.50,244.5 230.75,277.6 231.00,244.6 231.25,278.8 231.50,245.8 231.75,283.4 232.00,246.2 232.25,278.0 232.50,244.5 232.75,276.3 233.00,245.8 233.25,283.7 233.50,243.7 233.75,275.9 234.00,245.8 234.25,279.0 234.50,245.3 234.75,278.1 235.00,240.0 235.25,278.6 235.50,243.6 235.75,285.0 236.00,243.2 236.25,277.9 236.50,247.1 236.75,277.3 237.00,247.5 237.25,279.2 237.50,246.9 237.75,279.2 238.00,243.2 238.25,281.0 238.50,247.9 238.75,279.1 239.00,246.3 239.25,278.9 239.50,242.1 239.75,280.3 240.00,247.4 240.25,280.1 240.50,246.8 240.75,279.1 241.00,245.5 241.25,279.1 241.50,249.1 241.75,281.0 242.00,243.7 242.25,283.4 242.50,247.8 242.75,281.6 243.00,247.9 243.25,280.1 243.50,249.7 243.75,280.3 244.00,248.8 244.25,280.6 244.50,250.3 244.75,281.1 245.00,244.7 245.25,289.1 245.50,244.2 245.75,283.8 246.00,249.4 246.25,281.8 246.50,245.5 246.75,280.5 247.00,247.2 247.25,286.3 247.50,249.8 247.75,283.5 248.00,250.1 248.25,288.3 248.50,250.8 248.75,286.8 249.00,250.8 249.25,282.9 249.50,247.6 249.75,285.3 250.00,242.5 250.25,281.0 250.50,247.9 250.75,283.7 251.00,251.5 251.25,284.0 251.50,250.0 251.75,283.9 252.00,249.6 252.25,283.0 252.50,251.5 252.75,283.6 253.00,251.1 253.25,282.3 253.50,249.1 253.75,288.8 254.00,250.5 254.25,282.9 254.50,251.2 254.75,283.6 255.00,252.3 255.25,293.6 255.50,248.1 255.75,284.5 256.00,249.5 256.25,289.4 256.50,244.6 256.75,289.6 257.00,252.4 257.25,284.8 257.50,249.3 257.75,286.0 258.00,249.2 258.25,284.2 258.50,250.7 258.75,288.0 259.00,252.2 259.25,292.9 259.50,251.9 259.75,288.8 260.00,251.2 260.25,284.6 260.50,253.6 260.75,295.4 261.00,249.9 261.25,287.0 261.50,251.4 261.75,290.5 262.00,252.3 262.25,287.8 262.50,251.5 262.75,287.6 263.00,251.6 263.25,291.8 263.50,251.0 263.75,294.1 264.00,251.7 264.25,289.5 264.50,253.5 264.75,292.2 265.00,253.3 265.25,286.7 265.50,252.2 265.75,288.2 266.00,252.6 266.25,288.1 266.50,248.5 266.75,287.4 267.00,253.7 267.25,291.3 267.50,253.5 267.75,288.3 268.00,253.4 268.25,288.1 268.50,254.9 268.75,289.5 269.00,252.8 269.25,288.3 269.50,254.6 269.75,286.9 270.00,254.1 270.25,289.2 270.50,254.7 270.75,287.4 271.00,253.9 271.25,294.2 271.50,253.4 271.75,291.9 272.00,254.0 272.25,291.7 272.50,253.3 272.75,290.5 273.00,255.6 273.25,289.2 273.50,255.0 273.75,294.1 274.00,249.2 274.25,290.6 274.50,255.2 274.75,293.3 275.00,253.4 275.25,291.3 275.50,252.2 275.75,292.6 276.00,256.9 276.25,292.2 276.50,254.6 276.75,289.8 277.00,255.7 277.25,289.9 277.50,254.8 277.75,292.1 278.00,255.4 278.25,289.9 278.50,254.3 278.75,291.2 279.00,257.2 279.25,291.7 279.50,257.4 279.75,293.0 280.00,254.9 280.25,292.2 280.50,255.6 280.75,295.5 281.00,258.3 281.25,292.8 281.50,251.7 281.75,290.6 282.00,256.7 282.25,292.0 282.50,256.6 282.75,290.8 283.00,258.5 283.25,294.2 283.50,256.5 283.75,298.5 284.00,256.0 284.25,292.9 284.50,255.4 284.75,295.4 285.00,258.5 285.25,298.0 285.50,249.2 285.75,293.6 286.00,255.4 286.25,296.9 286.50,255.1 286.75,297.2 287.00,251.8 287.25,296.4 287.50,257.8 287.75,296.6 288.00,257.2 288.25,295.8 288.50,260.1 288.75,292.4 289.00,260.0 289.25,293.0 289.50,258.3 289.75,294.0 290.00,257.8 290.25,293.9 290.50,258.5 290.75,298.3 291.00,259.0 291.25,297.6 291.50,257.0 291.75,295.9 292.00,257.0 292.25,297.3 292.50,259.2 292.75,295.4 293.00,258.5 293.25,295.2 293.50,257.8 293.75,295.0 294.00,258.4 294.25,295.7 294.50,260.8 294.75,294.4 295.00,259.7 295.25,295.6 295.50,260.0 295.75,299.7 296.00,255.7 296.25,293.5 296.50,260.6 296.75,295.6 297.00,259.7 297.25,306.7 297.50,260.0 297.75,298.3 298.00,260.3 298.25,297.1 298.50,261.7 298.75,295.7 299.00,254.7 299.25,296.1 299.50,260.1 299.75,302.2 300.00,259.0 300.25,300.7 300.50,259.5 300.75,300.5 301.00,260.9 301.25,300.2 301.50,260.5 301.75,296.9 302.00,257.3 302.25,298.0 302.50,262.3 302.75,295.4 303.00,260.7 303.25,297.0 303.50,260.1 303.75,294.9 304.00,261.4 304.25,296.8 304.50,261.5 304.75,295.6 305.00,259.7 305.25,299.2 305.50,261.4 305.75,302.6 306.00,255.3 306.25,301.5 306.50,259.9 306.75,296.3 307.00,257.4 307.25,295.9 307.50,259.9 307.75,298.3 308.00,262.9 308.25,299.3 308.50,261.9 308.75,297.8 309.00,261.7 309.25,299.8 309.50,261.8 309.75,297.7 310.00,260.6 310.25,299.8 310.50,261.0 310.75,302.7 311.00,262.0 311.25,299.9 311.50,263.9 311.75,299.6 312.00,257.8 312.25,299.1 312.50,263.0 312.75,302.7 313.00,263.3 313.25,298.4 313.50,264.8 313.75,299.9 314.00,261.2 314.25,299.0 314.50,260.3 314.75,299.4 315.00,260.5 315.25,299.9 315.50,265.2 315.75,297.7 316.00,260.3 316.25,302.0 316.50,263.7 316.75,304.9 317.00,263.7 317.25,305.4 317.50,264.4 317.75,306.3 318.00,262.2 318.25,297.9 318.50,261.1 318.75,300.2 319.00,263.6 319.25,300.5 319.50,264.3 319.75,302.6 320.00,261.0 320.25,300.6 320.50,264.1 320.75,301.3 321.00,263.6 321.25,299.5 321.50,264.8 321.75,304.6 322.00,263.6 322.25,299.6 322.50,263.3 322.75,301.7 323.00,265.6 323.25,309.3 323.50,266.3 323.75,302.3 324.00,265.0 324.25,301.2 324.50,266.5 324.75,305.3 325.00,265.1 325.25,304.4 325.50,262.4 325.75,301.8 326.00,265.5 326.25,302.2 326.50,267.5 326.75,303.4 327.00,266.6 327.25,307.5 327.50,264.9 327.75,301.6 328.00,265.1 328.25,304.0 328.50,266.7 328.75,301.4 329.00,264.5 329.25,300.2 329.50,266.9 329.75,303.9 330.00,261.7 330.25,301.1 330.50,263.8 330.75,302.5 331.00,258.0 331.25,305.8 331.50,264.9 331.75,301.4 332.00,265.7 332.25,302.9 332.50,268.0 332.75,302.7 333.00,266.3 333.25,301.2 333.50,268.1 333.75,303.4 334.00,264.1 334.25,305.0 334.50,267.9 334.75,301.2 335.00,258.8 335.25,302.8 335.50,267.1 335.75,304.6 336.00,259.6 336.25,305.3 336.50,269.0 336.75,304.7 337.00,268.0 337.25,311.9 337.50,269.0 337.75,306.1 338.00,269.0 338.25,306.5 338.50,267.5 338.75,303.5 339.00,269.7 339.25,305.7 339.50,266.3 339.75,306.9 340.00,268.0 340.25,304.8 340.50,268.8 340.75,303.9 341.00,268.7 341.25,308.3 341.50,268.9 341.75,303.8 342.00,260.2 342.25,303.3 342.50,268.7 342.75,305.5 343.00,268.7 343.25,306.3 343.50,269.3 343.75,304.8 344.00,266.2 344.25,303.9 344.50,268.2 344.75,306.2 345.00,268.4 345.25,304.4 345.50,271.0 345.75,304.4 346.00,269.2 346.25,304.8 346.50,266.5 346.75,303.0 347.00,270.5 347.25,304.0 347.50,266.4 347.75,303.6 348.00,268.8 348.25,307.6 348.50,268.9 348.75,307.2 349.00,268.2 349.25,303.4 349.50,270.5 349.75,304.3 350.00,270.0 350.25,305.9 350.50,267.2 350.75,312.0 351.00,266.1 351.25,306.5 351.50,267.1 351.75,305.8 352.00,266.0 352.25,308.8 352.50,267.2 352.75,306.7 353.00,272.3 353.25,305.9 353.50,269.3 353.75,304.2 354.00,272.4 354.25,309.1 354.50,272.1 354.75,311.2 355.00,272.4 355.25,307.1 355.50,272.1 355.75,308.0 356.00,270.7 356.25,305.6 356.50,272.4 356.75,309.2 357.00,270.7 357.25,306.9 357.50,268.5 357.75,306.3 358.00,270.4 358.25,312.2 358.50,273.5 358.75,308.9 359.00,271.9 359.25,310.7 359.50,270.0 359.75,309.0 360.00,272.2 360.25,305.9 360.50,270.8 360.75,305.3 361.00,273.1 361.25,306.5 361.50,272.4 361.75,309.5 362.00,270.2 362.25,307.6 362.50,273.7 362.75,307.8 363.00,272.3 363.25,308.8 363.50,272.6 363.75,307.6 364.00,273.1 364.25,307.6 364.50,271.7 364.75,307.8 365.00,269.3 365.25,308.3 365.50,273.1 365.75,306.8 366.00,273.8 366.25,310.2 366.50,273.3 366.75,308.7 367.00,269.4 367.25,309.3 367.50,274.3 367.75,308.1 368.00,274.6 368.25,311.7 368.50,274.1 368.75,306.8 369.00,271.7 369.25,308.5 369.50,273.4 369.75,312.2 370.00,272.0 370.25,310.2 370.50,275.2 370.75,310.1 371.00,274.0 371.25,307.9 371.50,275.2 371.75,307.7 372.00,275.2 372.25,310.2 372.50,273.2 372.75,310.0 373.00,274.3 373.25,313.5 373.50,267.7 373.75,308.7 374.00,271.1 374.25,309.3 374.50,274.1 374.75,309.2 375.00,274.7 375.25,309.1 375.50,276.2 375.75,309.8 376.00,276.4 376.25,310.4 376.50,271.7 376.75,314.9 377.00,275.5 377.25,310.3 377.50,274.1 377.75,311.6 378.00,274.5 378.25,314.4 378.50,273.1 378.75,310.5 379.00,269.6 379.25,309.7 379.50,272.9 379.75,314.7 380.00,275.3 380.25,309.9 380.50,271.4 380.75,310.5 381.00,274.0 381.25,310.5 381.50,275.5 381.75,311.4 382.00,274.9 382.25,315.3 382.50,273.1 382.75,316.5 383.00,271.8 383.25,313.0 383.50,276.5 383.75,310.6 384.00,276.1 384.25,316.5 384.50,277.5 384.75,309.9 385.00,273.6 385.25,311.6 385.50,276.2 385.75,316.9 386.00,271.3 386.25,312.2 386.50,272.0 386.75,309.4 387.00,275.6 387.25,312.0 387.50,275.6 387.75,312.4 388.00,277.3 388.25,314.3 388.50,277.4 388.75,309.7 389.00,276.2 389.25,316.8 389.50,276.8 389.75,310.1 390.00,271.5 390.25,314.4 390.50,277.6 390.75,310.2 391.00,275.2 391.25,310.7 391.50,277.0 391.75,313.0 392.00,276.5 392.25,311.0 392.50,276.0 392.75,312.0 393.00,278.5 393.25,315.6 393.50,275.2 393.75,312.0 394.00,273.7 394.25,310.7 394.50,274.3 394.75,315.5 395.00,277.5 395.25,312.3 395.50,278.6 395.75,310.1 396.00,275.2 396.25,313.5 396.50,278.3 396.75,313.2 397.00,277.0 397.25,311.3 397.50,279.7 397.75,313.3 398.00,279.6 398.25,313.0 398.50,278.1 398.75,312.8 399.00,278.2 399.25,312.6 399.50,279.4 399.75,310.7 400.00,280.1 400.25,314.4 400.50,277.3 400.75,313.6 401.00,280.2 401.25,311.5 401.50,279.4 401.75,314.4 402.00,276.6 402.25,318.0 402.50,278.5 402.75,311.6 403.00,277.8 403.25,314.6 403.50,278.3 403.75,310.7 404.00,278.3 404.25,313.5 404.50,279.0 404.75,317.9 405.00,280.2 405.25,311.9 405.50,276.1 405.75,311.9 406.00,278.6 406.25,314.8 406.50,278.8 406.75,314.6 407.00,271.1 407.25,312.9 407.50,280.7 407.75,315.6 408.00,276.5 408.25,312.7 408.50,278.9 408.75,315.7 409.00,281.2 409.25,318.8 409.50,280.4 409.75,312.4 410.00,280.3 410.25,317.7 410.50,281.5 410.75,318.4 411.00,280.6 411.25,313.8 411.50,277.9 411.75,318.0 412.00,276.5 412.25,314.0 412.50,279.3 412.75,316.4 413.00,279.8 413.25,320.9 413.50,280.4 413.75,315.9 414.00,281.4 414.25,316.2 414.50,281.0 414.75,313.4 415.00,279.6 415.25,312.8 415.50,282.3 415.75,314.4 416.00,280.9 416.25,314.2 416.50,280.4 416.75,316.2 417.00,280.2 417.25,312.4 417.50,282.7 417.75,316.9 418.00,276.7 418.25,313.7 418.50,279.7 418.75,313.9 419.00,282.3 419.25,320.9 419.50,281.8 419.75,313.9 420.00,279.3 420.25,313.7 420.50,278.9 420.75,321.1 421.00,282.5 421.25,313.6 421.50,282.8 421.75,317.9 422.00,278.2 422.25,318.1 422.50,280.5 422.75,314.6 423.00,281.8 423.25,318.5 423.50,282.5 423.75,314.5 424.00,282.1 424.25,315.5 424.50,283.3 424.75,319.0 425.00,279.6 425.25,318.8 425.50,281.6 425.75,316.8 426.00,281.4 426.25,316.6 426.50,274.2 426.75,314.1 427.00,281.4 427.25,316.7 427.50,283.9 427.75,317.5 428.00,283.4 428.25,315.7 428.50,279.9 428.75,315.1 429.00,279.2 429.25,321.7 429.50,282.2 429.75,317.9 430.00,283.3 430.25,317.8 430.50,280.6 430.75,314.7 431.00,284.3 431.25,320.8 431.50,284.3 431.75,318.0 432.00,283.2 432.25,316.7 432.50,282.1 432.75,315.9 433.00,282.7 433.25,318.0 433.50,282.6 433.75,317.3 434.00,285.0 434.25,319.3 434.50,284.0 434.75,319.4 435.00,283.5 435.25,320.9 435.50,284.1 435.75,317.6 436.00,284.5 436.25,322.5 436.50,282.4 436.75,316.4 437.00,284.2 437.25,318.3 437.50,285.1 437.75,317.0 438.00,281.1 438.25,317.2 438.50,283.6 438.75,317.9 439.00,286.0 439.25,323.4 439.50,283.1 439.75,315.8 440.00,278.0 440.25,317.0 440.50,281.9 440.75,317.6 441.00,281.2 441.25,318.9 441.50,280.8 441.75,316.2 442.00,283.5 442.25,321.4 442.50,285.6 442.75,320.7 443.00,281.9 443.25,318.2 443.50,286.3 443.75,317.8 444.00,284.5 444.25,317.5 444.50,283.4 444.75,323.5 445.00,284.2 445.25,322.9 445.50,285.6 445.75,317.9 446.00,286.6 446.25,325.1 446.50,279.3 446.75,321.7 447.00,283.5 447.25,320.0 447.50,286.2 447.75,319.7 448.00,286.9 448.25,320.3 448.50,285.1 448.75,323.9 449.00,285.3 449.25,317.5 449.50,285.2 449.75,322.6 450.00,281.8 450.25,321.6 450.50,286.9 450.75,320.5 451.00,284.8 451.25,319.0 451.50,287.9 451.75,320.8 452.00,286.4 452.25,319.1 452.50,281.9 452.75,320.0 453.00,287.9 453.25,318.2 453.50,284.2 453.75,320.5 454.00,286.9 454.25,317.9 454.50,286.7 454.75,320.7 455.00,287.3 455.25,318.8 455.50,285.4 455.75,320.4 456.00,285.3 456.25,320.8 456.50,284.3 456.75,322.6 457.00,287.4 457.25,319.9 457.50,288.0 457.75,319.3 458.00,283.8 458.25,320.5 458.50,287.9 458.75,323.3 459.00,285.7 459.25,323.5 459.50,288.1 459.75,324.6 460.00,285.9 460.25,324.3 460.50,279.3 460.75,323.6 461.00,285.3 461.25,319.6 461.50,288.5 461.75,328.4 462.00,287.2 462.25,322.9 462.50,286.9 462.75,320.9 463.00,287.6 463.25,320.0 463.50,285.6 463.75,321.9 464.00,285.7 464.25,319.9 464.50,287.1 464.75,321.4 465.00,282.9 465.25,324.3 465.50,289.1 465.75,323.2 466.00,288.9 466.25,324.7 466.50,290.3 466.75,319.1 467.00,287.5 467.25,323.6 467.50,288.6 467.75,326.2 468.00,287.2 468.25,322.8 468.50,289.4 468.75,323.3 469.00,289.6 469.25,321.6 469.50,288.2 469.75,323.2 470.00,289.4 470.25,324.5 470.50,287.7 470.75,321.2 471.00,287.8 471.25,323.0 471.50,288.7 471.75,323.2 472.00,286.8 472.25,322.0 472.50,288.4 472.75,321.6 473.00,289.4 473.25,329.7 473.50,290.2 473.75,323.2 474.00,288.0 474.25,321.3 474.50,290.1 474.75,323.6 475.00,286.5 475.25,324.3 475.50,288.3 475.75,325.2 476.00,290.0 476.25,326.8 476.50,290.7 476.75,323.4 477.00,290.9 477.25,327.1 477.50,285.5 477.75,326.6 478.00,291.7 478.25,325.7 478.50,290.6 478.75,323.3 479.00,281.6 479.25,329.3 479.50,287.3 479.75,322.9 480.00,284.6 480.25,323.3 480.50,288.3 480.75,323.5 481.00,289.4 481.25,324.5 481.50,288.7 481.75,327.3 482.00,291.6 482.25,325.0 482.50,291.1 482.75,323.4 483.00,291.5 483.25,327.0 483.50,291.7 483.75,323.1 484.00,282.2 484.25,323.5 484.50,291.5 484.75,325.0 485.00,287.8 485.25,325.7 485.50,292.5 485.75,323.9 486.00,292.7 486.25,323.3 486.50,290.3 486.75,323.1 487.00,288.9 487.25,324.1 487.50,292.2 487.75,324.5 488.00,291.0 488.25,323.9 488.50,286.8 488.75,324.5 489.00,287.3 489.25,324.1 489.50,292.1 489.75,325.6 490.00,285.1 490.25,332.7 490.50,286.2 490.75,324.5 491.00,288.3 491.25,322.7 491.50,292.9 491.75,326.7 492.00,292.1 492.25,329.3 492.50,290.0 492.75,324.4 493.00,291.2 493.25,325.1 493.50,290.9 493.75,328.3 494.00,290.0 494.25,324.3 494.50,290.6 494.75,324.6 495.00,289.3 495.25,322.6 495.50,286.5 495.75,323.9 496.00,290.7 496.25,328.1 496.50,292.0 496.75,330.8 497.00,291.4 497.25,331.6 497.50,293.2 497.75,324.3 498.00,291.2 498.25,323.5 498.50,288.2 498.75,324.9 499.00,293.9 499.25,324.3 499.50,293.9 499.75,324.7 500.00,289.1 500.25,326.1 500.50,292.8 500.75,323.6 501.00,292.0 501.25,324.1 501.50,290.8 501.75,326.8 502.00,286.3 502.25,326.9 502.50,289.4 502.75,326.9 503.00,289.4 503.25,323.5 503.50,290.3 503.75,326.3 504.00,293.4 504.25,328.8 504.50,291.1 504.75,325.4 505.00,287.6 505.25,324.1 505.50,294.7 505.75,325.1 506.00,294.6 506.25,329.2 506.50,290.9 506.75,328.8 507.00,294.1 507.25,324.3 507.50,293.0 507.75,324.6 508.00,291.8 508.25,326.7 508.50,287.3 508.75,329.8 509.00,292.6 509.25,330.4 509.50,292.1 509.75,323.2 510.00,288.9 510.25,325.9 510.50,293.9 510.75,325.2 511.00,294.7 511.25,326.6 511.50,289.1 511.75,332.3 512.00,295.2 512.25,327.0 512.50,295.0 512.75,324.9 513.00,294.7 513.25,331.6 513.50,291.1 513.75,329.4 514.00,291.0 514.25,327.3 514.50,291.8 514.75,328.4 515.00,290.3 515.25,326.1 515.50,294.5 515.75,327.2 516.00,293.7 516.25,324.6 516.50,294.3 516.75,330.2 517.00,293.2 517.25,327.5 517.50,293.3 517.75,325.5 518.00,295.2 518.25,331.1 518.50,292.7 518.75,330.7 519.00,292.1 519.25,330.4 519.50,291.8 519.75,327.3 520.00,293.9 520.25,328.6 520.50,293.2 520.75,325.2 521.00,294.3 521.25,326.1 521.50,296.0 521.75,325.3 522.00,290.5 522.25,329.1 522.50,290.5 522.75,326.2 523.00,295.4 523.25,327.6 523.50,294.5 523.75,326.6 524.00,293.5 524.25,327.7 524.50,293.0 524.75,326.1 525.00,293.8 525.25,326.0 525.50,294.2 525.75,325.4 526.00,293.6 526.25,327.5 526.50,296.2 526.75,328.7 527.00,293.8 527.25,325.1 527.50,294.7 527.75,330.2 528.00,287.7 528.25,332.0" fill="none" stroke="#EDB120" stroke-width="0.95" stroke-linejoin="round"/>
<path d="M53.95,53.2L54.0,100 54.2,150 54.7,178" fill="none" stroke="#0072BD" stroke-width="1.0" stroke-linejoin="round"/>
<path d="M54.35,55.4L54.5,80 54.8,100 55.2,118 55.7,127" fill="none" stroke="#D95319" stroke-width="1.1" stroke-linejoin="round"/>
<path d="M53.95,55.4L54.0,80 54.15,105 54.6,127 55.6,140" fill="none" stroke="#EDB120" stroke-width="1.2" stroke-linejoin="round"/></g>
<g font-family="'Liberation Sans', Arial, sans-serif" fill="#262626">
<g font-size="14.4" text-anchor="middle">
<text x="53.5" y="378.1">0</text>
<text x="101.4" y="378.1">50</text>
<text x="148.8" y="378.1">100</text>
<text x="196.2" y="378.1">150</text>
<text x="243.6" y="378.1">200</text>
<text x="291.0" y="378.1">250</text>
<text x="338.4" y="378.1">300</text>
<text x="385.8" y="378.1">350</text>
<text x="433.2" y="378.1">400</text>
<text x="480.6" y="378.1">450</text>
<text x="528.0" y="378.1">500</text>
</g>
<g font-size="14.4" text-anchor="end">
<text x="47.6" y="31.2">5</text>
<text x="47.6" y="64.4">0</text>
<text x="47.6" y="97.6">-5</text>
<text x="47.6" y="130.8">-10</text>
<text x="47.6" y="164.0">-15</text>
<text x="47.6" y="197.2">-20</text>
<text x="47.6" y="230.4">-25</text>
<text x="47.6" y="263.6">-30</text>
<text x="47.6" y="296.8">-35</text>
<text x="47.6" y="330.5">-40</text>
<text x="47.6" y="364.8">-45</text>
</g>
<text x="291.2" y="397.6" font-size="16.1" text-anchor="middle">Time, s</text>
<text transform="translate(20.2,192.2) rotate(-90)" font-size="16.4" text-anchor="middle">MSE, dB</text>
<text x="291" y="21.2" font-size="17.2" font-weight="bold" text-anchor="middle" fill="#000">Mean squared error averaged over 50 runs, M = 16</text>
<rect x="303.5" y="37.5" width="212.5" height="50.8" fill="#fff" stroke="#262626" stroke-width="0.7"/>
<path d="M307.3,47.1H349.5" stroke="#0072BD" stroke-width="2.7" fill="none"/>
<text x="353.3" y="51.9" font-size="13.20" fill="#000">LLMS, A = 37 dB</text>
<path d="M307.3,63.0H349.5" stroke="#D95319" stroke-width="2.7" fill="none"/>
<text x="353.3" y="67.8" font-size="13.00" fill="#000">SequentialLLMS, A = 24 dB</text>
<path d="M307.3,78.5H349.5" stroke="#EDB120" stroke-width="2.7" fill="none"/>
<text x="353.3" y="83.3" font-size="13.00" fill="#000">mMaxLLMS, A = 37 dB</text>
</g>
</svg>
</body></html>
